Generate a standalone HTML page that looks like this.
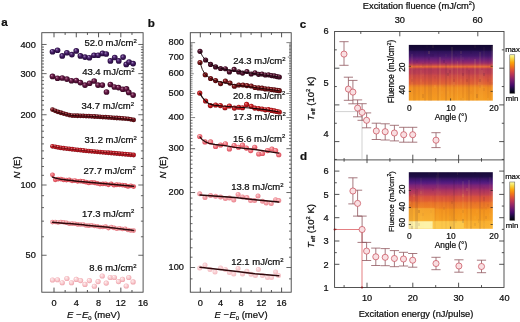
<!DOCTYPE html>
<html lang="en">
<head>
<meta charset="utf-8">
<title>Figure</title>
<style>
html,body{margin:0;padding:0;background:#fff;}
body{width:520px;height:322px;overflow:hidden;}
svg{display:block;font-family:"Liberation Sans",Arial,sans-serif;}
text{stroke:#0c0c0c;stroke-width:0.22px;}
</style>
</head>
<body>
<svg width="520" height="322" viewBox="0 0 520 322">
<rect width="520" height="322" fill="#fff"/>
<defs>
<radialGradient id="a1" cx="0.5" cy="0.5" fx="0.34" fy="0.3" r="0.56"><stop offset="0" stop-color="#b8a0d4"/><stop offset="0.2" stop-color="#715090"/><stop offset="0.48" stop-color="#421a62"/><stop offset="1" stop-color="#1c0630"/></radialGradient>
<radialGradient id="a2" cx="0.5" cy="0.5" fx="0.34" fy="0.3" r="0.56"><stop offset="0" stop-color="#cc98b4"/><stop offset="0.2" stop-color="#8b496e"/><stop offset="0.48" stop-color="#601440"/><stop offset="1" stop-color="#2c051c"/></radialGradient>
<radialGradient id="a3" cx="0.5" cy="0.5" fx="0.34" fy="0.3" r="0.56"><stop offset="0" stop-color="#e0a0a4"/><stop offset="0.2" stop-color="#a04a51"/><stop offset="0.48" stop-color="#76101a"/><stop offset="1" stop-color="#380408"/></radialGradient>
<radialGradient id="a4" cx="0.5" cy="0.5" fx="0.34" fy="0.3" r="0.56"><stop offset="0" stop-color="#f8b8b8"/><stop offset="0.2" stop-color="#d9595f"/><stop offset="0.48" stop-color="#c41a24"/><stop offset="1" stop-color="#780a12"/></radialGradient>
<radialGradient id="a5" cx="0.5" cy="0.5" fx="0.34" fy="0.3" r="0.56"><stop offset="0" stop-color="#ffdcdc"/><stop offset="0.2" stop-color="#f5989e"/><stop offset="0.48" stop-color="#ee6a74"/><stop offset="1" stop-color="#cc3e4a"/></radialGradient>
<radialGradient id="a6" cx="0.5" cy="0.5" fx="0.34" fy="0.3" r="0.56"><stop offset="0" stop-color="#ffe4e4"/><stop offset="0.2" stop-color="#f7b8bb"/><stop offset="0.48" stop-color="#f29aa0"/><stop offset="1" stop-color="#dc6872"/></radialGradient>
<radialGradient id="a7" cx="0.5" cy="0.5" fx="0.34" fy="0.3" r="0.56"><stop offset="0" stop-color="#fff8f8"/><stop offset="0.2" stop-color="#fbe0e2"/><stop offset="0.48" stop-color="#f9d0d3"/><stop offset="1" stop-color="#ec98a2"/></radialGradient>
<radialGradient id="b1" cx="0.5" cy="0.5" fx="0.34" fy="0.3" r="0.56"><stop offset="0" stop-color="#c494ac"/><stop offset="0.2" stop-color="#7e455f"/><stop offset="0.48" stop-color="#50102c"/><stop offset="1" stop-color="#240412"/></radialGradient>
<radialGradient id="b2" cx="0.5" cy="0.5" fx="0.34" fy="0.3" r="0.56"><stop offset="0" stop-color="#dc9c9c"/><stop offset="0.2" stop-color="#a2494c"/><stop offset="0.48" stop-color="#7c1216"/><stop offset="1" stop-color="#3a0508"/></radialGradient>
<radialGradient id="b3" cx="0.5" cy="0.5" fx="0.34" fy="0.3" r="0.56"><stop offset="0" stop-color="#f8b4b4"/><stop offset="0.2" stop-color="#db595b"/><stop offset="0.48" stop-color="#c81c20"/><stop offset="1" stop-color="#7c0a0e"/></radialGradient>
<radialGradient id="b4" cx="0.5" cy="0.5" fx="0.34" fy="0.3" r="0.56"><stop offset="0" stop-color="#ffe0e0"/><stop offset="0.2" stop-color="#f6a3a9"/><stop offset="0.48" stop-color="#f07a84"/><stop offset="1" stop-color="#d84452"/></radialGradient>
<radialGradient id="b5" cx="0.5" cy="0.5" fx="0.34" fy="0.3" r="0.56"><stop offset="0" stop-color="#ffe0e0"/><stop offset="0.2" stop-color="#f8babe"/><stop offset="0.48" stop-color="#f4a0a8"/><stop offset="1" stop-color="#e6808a"/></radialGradient>
<radialGradient id="b6" cx="0.5" cy="0.5" fx="0.34" fy="0.3" r="0.56"><stop offset="0" stop-color="#fff4f4"/><stop offset="0.2" stop-color="#fbdee1"/><stop offset="0.48" stop-color="#f9d0d4"/><stop offset="1" stop-color="#f2b8be"/></radialGradient>
<linearGradient id="cb" x1="0" y1="0" x2="0" y2="1"><stop offset="0" stop-color="#fcffa4"/><stop offset="0.1" stop-color="#f6d746"/><stop offset="0.2" stop-color="#fca50a"/><stop offset="0.3" stop-color="#f37819"/><stop offset="0.4" stop-color="#dd513a"/><stop offset="0.5" stop-color="#bc3754"/><stop offset="0.6" stop-color="#932667"/><stop offset="0.7" stop-color="#6a176e"/><stop offset="0.8" stop-color="#420a68"/><stop offset="0.9" stop-color="#160b39"/><stop offset="1" stop-color="#000004"/></linearGradient>
</defs>
<rect x="41.8" y="32.7" width="101.3" height="259.5" fill="#fff" stroke="#404040" stroke-width="0.9"/>
<line x1="54" y1="292.2" x2="54" y2="287.6" stroke="#404040" stroke-width="0.9"/>
<line x1="54" y1="32.7" x2="54" y2="37.3" stroke="#404040" stroke-width="0.9"/>
<line x1="65.14" y1="292.2" x2="65.14" y2="290" stroke="#404040" stroke-width="0.9"/>
<line x1="65.14" y1="32.7" x2="65.14" y2="34.9" stroke="#404040" stroke-width="0.9"/>
<line x1="76.28" y1="292.2" x2="76.28" y2="287.6" stroke="#404040" stroke-width="0.9"/>
<line x1="76.28" y1="32.7" x2="76.28" y2="37.3" stroke="#404040" stroke-width="0.9"/>
<line x1="87.42" y1="292.2" x2="87.42" y2="290" stroke="#404040" stroke-width="0.9"/>
<line x1="87.42" y1="32.7" x2="87.42" y2="34.9" stroke="#404040" stroke-width="0.9"/>
<line x1="98.56" y1="292.2" x2="98.56" y2="287.6" stroke="#404040" stroke-width="0.9"/>
<line x1="98.56" y1="32.7" x2="98.56" y2="37.3" stroke="#404040" stroke-width="0.9"/>
<line x1="109.7" y1="292.2" x2="109.7" y2="290" stroke="#404040" stroke-width="0.9"/>
<line x1="109.7" y1="32.7" x2="109.7" y2="34.9" stroke="#404040" stroke-width="0.9"/>
<line x1="120.84" y1="292.2" x2="120.84" y2="287.6" stroke="#404040" stroke-width="0.9"/>
<line x1="120.84" y1="32.7" x2="120.84" y2="37.3" stroke="#404040" stroke-width="0.9"/>
<line x1="131.98" y1="292.2" x2="131.98" y2="290" stroke="#404040" stroke-width="0.9"/>
<line x1="131.98" y1="32.7" x2="131.98" y2="34.9" stroke="#404040" stroke-width="0.9"/>
<line x1="41.8" y1="255.26" x2="46.6" y2="255.26" stroke="#404040" stroke-width="0.8"/>
<line x1="143.1" y1="255.26" x2="138.3" y2="255.26" stroke="#404040" stroke-width="0.8"/>
<line x1="41.8" y1="236.78" x2="44" y2="236.78" stroke="#404040" stroke-width="0.8"/>
<line x1="143.1" y1="236.78" x2="140.9" y2="236.78" stroke="#404040" stroke-width="0.8"/>
<line x1="41.8" y1="221.15" x2="44" y2="221.15" stroke="#404040" stroke-width="0.8"/>
<line x1="143.1" y1="221.15" x2="140.9" y2="221.15" stroke="#404040" stroke-width="0.8"/>
<line x1="41.8" y1="207.62" x2="44" y2="207.62" stroke="#404040" stroke-width="0.8"/>
<line x1="143.1" y1="207.62" x2="140.9" y2="207.62" stroke="#404040" stroke-width="0.8"/>
<line x1="41.8" y1="195.68" x2="44" y2="195.68" stroke="#404040" stroke-width="0.8"/>
<line x1="143.1" y1="195.68" x2="140.9" y2="195.68" stroke="#404040" stroke-width="0.8"/>
<line x1="41.8" y1="185" x2="46.6" y2="185" stroke="#404040" stroke-width="0.8"/>
<line x1="143.1" y1="185" x2="138.3" y2="185" stroke="#404040" stroke-width="0.8"/>
<line x1="41.8" y1="175.34" x2="44" y2="175.34" stroke="#404040" stroke-width="0.8"/>
<line x1="143.1" y1="175.34" x2="140.9" y2="175.34" stroke="#404040" stroke-width="0.8"/>
<line x1="41.8" y1="166.52" x2="44" y2="166.52" stroke="#404040" stroke-width="0.8"/>
<line x1="143.1" y1="166.52" x2="140.9" y2="166.52" stroke="#404040" stroke-width="0.8"/>
<line x1="41.8" y1="158.41" x2="44" y2="158.41" stroke="#404040" stroke-width="0.8"/>
<line x1="143.1" y1="158.41" x2="140.9" y2="158.41" stroke="#404040" stroke-width="0.8"/>
<line x1="41.8" y1="150.89" x2="44" y2="150.89" stroke="#404040" stroke-width="0.8"/>
<line x1="143.1" y1="150.89" x2="140.9" y2="150.89" stroke="#404040" stroke-width="0.8"/>
<line x1="41.8" y1="143.9" x2="44" y2="143.9" stroke="#404040" stroke-width="0.8"/>
<line x1="143.1" y1="143.9" x2="140.9" y2="143.9" stroke="#404040" stroke-width="0.8"/>
<line x1="41.8" y1="137.36" x2="44" y2="137.36" stroke="#404040" stroke-width="0.8"/>
<line x1="143.1" y1="137.36" x2="140.9" y2="137.36" stroke="#404040" stroke-width="0.8"/>
<line x1="41.8" y1="131.21" x2="44" y2="131.21" stroke="#404040" stroke-width="0.8"/>
<line x1="143.1" y1="131.21" x2="140.9" y2="131.21" stroke="#404040" stroke-width="0.8"/>
<line x1="41.8" y1="125.42" x2="44" y2="125.42" stroke="#404040" stroke-width="0.8"/>
<line x1="143.1" y1="125.42" x2="140.9" y2="125.42" stroke="#404040" stroke-width="0.8"/>
<line x1="41.8" y1="119.94" x2="44" y2="119.94" stroke="#404040" stroke-width="0.8"/>
<line x1="143.1" y1="119.94" x2="140.9" y2="119.94" stroke="#404040" stroke-width="0.8"/>
<line x1="41.8" y1="114.74" x2="46.6" y2="114.74" stroke="#404040" stroke-width="0.8"/>
<line x1="143.1" y1="114.74" x2="138.3" y2="114.74" stroke="#404040" stroke-width="0.8"/>
<line x1="41.8" y1="109.79" x2="44" y2="109.79" stroke="#404040" stroke-width="0.8"/>
<line x1="143.1" y1="109.79" x2="140.9" y2="109.79" stroke="#404040" stroke-width="0.8"/>
<line x1="41.8" y1="105.08" x2="44" y2="105.08" stroke="#404040" stroke-width="0.8"/>
<line x1="143.1" y1="105.08" x2="140.9" y2="105.08" stroke="#404040" stroke-width="0.8"/>
<line x1="41.8" y1="100.57" x2="44" y2="100.57" stroke="#404040" stroke-width="0.8"/>
<line x1="143.1" y1="100.57" x2="140.9" y2="100.57" stroke="#404040" stroke-width="0.8"/>
<line x1="41.8" y1="96.26" x2="44" y2="96.26" stroke="#404040" stroke-width="0.8"/>
<line x1="143.1" y1="96.26" x2="140.9" y2="96.26" stroke="#404040" stroke-width="0.8"/>
<line x1="41.8" y1="92.12" x2="44" y2="92.12" stroke="#404040" stroke-width="0.8"/>
<line x1="143.1" y1="92.12" x2="140.9" y2="92.12" stroke="#404040" stroke-width="0.8"/>
<line x1="41.8" y1="88.15" x2="44" y2="88.15" stroke="#404040" stroke-width="0.8"/>
<line x1="143.1" y1="88.15" x2="140.9" y2="88.15" stroke="#404040" stroke-width="0.8"/>
<line x1="41.8" y1="84.32" x2="44" y2="84.32" stroke="#404040" stroke-width="0.8"/>
<line x1="143.1" y1="84.32" x2="140.9" y2="84.32" stroke="#404040" stroke-width="0.8"/>
<line x1="41.8" y1="80.63" x2="44" y2="80.63" stroke="#404040" stroke-width="0.8"/>
<line x1="143.1" y1="80.63" x2="140.9" y2="80.63" stroke="#404040" stroke-width="0.8"/>
<line x1="41.8" y1="77.08" x2="44" y2="77.08" stroke="#404040" stroke-width="0.8"/>
<line x1="143.1" y1="77.08" x2="140.9" y2="77.08" stroke="#404040" stroke-width="0.8"/>
<line x1="41.8" y1="73.64" x2="46.6" y2="73.64" stroke="#404040" stroke-width="0.8"/>
<line x1="143.1" y1="73.64" x2="138.3" y2="73.64" stroke="#404040" stroke-width="0.8"/>
<line x1="41.8" y1="70.32" x2="44" y2="70.32" stroke="#404040" stroke-width="0.8"/>
<line x1="143.1" y1="70.32" x2="140.9" y2="70.32" stroke="#404040" stroke-width="0.8"/>
<line x1="41.8" y1="67.1" x2="44" y2="67.1" stroke="#404040" stroke-width="0.8"/>
<line x1="143.1" y1="67.1" x2="140.9" y2="67.1" stroke="#404040" stroke-width="0.8"/>
<line x1="41.8" y1="63.98" x2="44" y2="63.98" stroke="#404040" stroke-width="0.8"/>
<line x1="143.1" y1="63.98" x2="140.9" y2="63.98" stroke="#404040" stroke-width="0.8"/>
<line x1="41.8" y1="60.95" x2="44" y2="60.95" stroke="#404040" stroke-width="0.8"/>
<line x1="143.1" y1="60.95" x2="140.9" y2="60.95" stroke="#404040" stroke-width="0.8"/>
<line x1="41.8" y1="58.01" x2="44" y2="58.01" stroke="#404040" stroke-width="0.8"/>
<line x1="143.1" y1="58.01" x2="140.9" y2="58.01" stroke="#404040" stroke-width="0.8"/>
<line x1="41.8" y1="55.16" x2="44" y2="55.16" stroke="#404040" stroke-width="0.8"/>
<line x1="143.1" y1="55.16" x2="140.9" y2="55.16" stroke="#404040" stroke-width="0.8"/>
<line x1="41.8" y1="52.38" x2="44" y2="52.38" stroke="#404040" stroke-width="0.8"/>
<line x1="143.1" y1="52.38" x2="140.9" y2="52.38" stroke="#404040" stroke-width="0.8"/>
<line x1="41.8" y1="49.68" x2="44" y2="49.68" stroke="#404040" stroke-width="0.8"/>
<line x1="143.1" y1="49.68" x2="140.9" y2="49.68" stroke="#404040" stroke-width="0.8"/>
<line x1="41.8" y1="47.05" x2="44" y2="47.05" stroke="#404040" stroke-width="0.8"/>
<line x1="143.1" y1="47.05" x2="140.9" y2="47.05" stroke="#404040" stroke-width="0.8"/>
<line x1="41.8" y1="44.48" x2="46.6" y2="44.48" stroke="#404040" stroke-width="0.8"/>
<line x1="143.1" y1="44.48" x2="138.3" y2="44.48" stroke="#404040" stroke-width="0.8"/>
<g fill="url(#a1)">
<circle cx="52.5" cy="51.75" r="2.85"/>
<circle cx="57.5" cy="50.25" r="2.85"/>
<circle cx="62.25" cy="55.9" r="2.85"/>
<circle cx="66.9" cy="52.75" r="2.85"/>
<circle cx="71.9" cy="54.6" r="2.85"/>
<circle cx="76.25" cy="50.9" r="2.85"/>
<circle cx="80.4" cy="55.9" r="2.85"/>
<circle cx="85" cy="57.1" r="2.85"/>
<circle cx="89.4" cy="57.75" r="2.85"/>
<circle cx="94" cy="55.25" r="2.85"/>
<circle cx="98.1" cy="55.25" r="2.85"/>
<circle cx="102.5" cy="53.4" r="2.85"/>
<circle cx="106.25" cy="54" r="2.85"/>
<circle cx="110.4" cy="60.9" r="2.85"/>
<circle cx="114.75" cy="57.5" r="2.85"/>
<circle cx="118.75" cy="60.9" r="2.85"/>
<circle cx="123.1" cy="57.1" r="2.85"/>
<circle cx="126.25" cy="64.4" r="2.85"/>
<circle cx="129.1" cy="62.1" r="2.85"/>
<circle cx="133.1" cy="63.6" r="2.85"/>
</g>
<g fill="url(#a2)">
<circle cx="52.5" cy="76.4" r="2.85"/>
<circle cx="57.5" cy="78.25" r="2.85"/>
<circle cx="62.25" cy="78" r="2.85"/>
<circle cx="66.9" cy="79.1" r="2.85"/>
<circle cx="71.5" cy="80.75" r="2.85"/>
<circle cx="76.25" cy="80.5" r="2.85"/>
<circle cx="80.4" cy="82.6" r="2.85"/>
<circle cx="85" cy="85.1" r="2.85"/>
<circle cx="89.6" cy="83.25" r="2.85"/>
<circle cx="94.2" cy="81" r="2.85"/>
<circle cx="98" cy="85.1" r="2.85"/>
<circle cx="102.3" cy="85.1" r="2.85"/>
<circle cx="106.5" cy="92" r="2.85"/>
<circle cx="110.4" cy="84.5" r="2.85"/>
<circle cx="114.4" cy="87" r="2.85"/>
<circle cx="118.5" cy="87.6" r="2.85"/>
<circle cx="122.75" cy="89.25" r="2.85"/>
<circle cx="126.5" cy="88.9" r="2.85"/>
<circle cx="128.75" cy="92.4" r="2.85"/>
<circle cx="133.1" cy="95.1" r="2.85"/>
</g>
<g fill="url(#a3)">
<circle cx="52.5" cy="109.6" r="2.4"/>
<circle cx="55.3" cy="110.84" r="2.4"/>
<circle cx="58.09" cy="111.93" r="2.4"/>
<circle cx="60.89" cy="112.77" r="2.4"/>
<circle cx="63.69" cy="113.58" r="2.4"/>
<circle cx="66.48" cy="114.31" r="2.4"/>
<circle cx="69.28" cy="115.05" r="2.4"/>
<circle cx="72.08" cy="115.54" r="2.4"/>
<circle cx="74.87" cy="115.64" r="2.4"/>
<circle cx="77.67" cy="115.75" r="2.4"/>
<circle cx="80.47" cy="115.85" r="2.4"/>
<circle cx="83.26" cy="115.95" r="2.4"/>
<circle cx="86.06" cy="116.05" r="2.4"/>
<circle cx="88.86" cy="116.16" r="2.4"/>
<circle cx="91.65" cy="116.31" r="2.4"/>
<circle cx="94.45" cy="116.49" r="2.4"/>
<circle cx="97.24" cy="116.67" r="2.4"/>
<circle cx="100.04" cy="116.85" r="2.4"/>
<circle cx="102.84" cy="117.03" r="2.4"/>
<circle cx="105.63" cy="117.22" r="2.4"/>
<circle cx="108.43" cy="117.4" r="2.4"/>
<circle cx="111.23" cy="117.59" r="2.4"/>
<circle cx="114.02" cy="117.79" r="2.4"/>
<circle cx="116.82" cy="117.99" r="2.4"/>
<circle cx="119.62" cy="118.19" r="2.4"/>
<circle cx="122.41" cy="118.4" r="2.4"/>
<circle cx="125.21" cy="118.6" r="2.4"/>
<circle cx="128.01" cy="118.8" r="2.4"/>
<circle cx="130.8" cy="119.35" r="2.4"/>
<circle cx="133.6" cy="119.9" r="2.4"/>
</g>
<polyline fill="none" stroke="#2a0508" stroke-width="1" stroke-linejoin="round" stroke-linecap="round" points="52.5,110.2 55.3,111.32 58.09,112.29 60.89,113.04 63.69,113.75 66.48,114.38 69.28,115.01 72.08,115.45 74.87,115.58 77.67,115.72 80.47,115.85 83.26,115.98 86.06,116.11 88.86,116.25 91.65,116.4 94.45,116.57 97.24,116.73 100.04,116.9 102.84,117.07 105.63,117.24 108.43,117.41 111.23,117.62 114.02,117.91 116.82,118.19 119.62,118.48 122.41,118.76 125.21,119.05 128.01,119.33 130.8,119.62 133.6,119.9"/>
<g fill="url(#a4)">
<circle cx="52.5" cy="146.3" r="2.4"/>
<circle cx="55.3" cy="146.86" r="2.4"/>
<circle cx="58.09" cy="147.42" r="2.4"/>
<circle cx="60.89" cy="147.91" r="2.4"/>
<circle cx="63.69" cy="148.24" r="2.4"/>
<circle cx="66.48" cy="148.58" r="2.4"/>
<circle cx="69.28" cy="148.91" r="2.4"/>
<circle cx="72.08" cy="149.25" r="2.4"/>
<circle cx="74.87" cy="149.58" r="2.4"/>
<circle cx="77.67" cy="149.88" r="2.4"/>
<circle cx="80.47" cy="150.18" r="2.4"/>
<circle cx="83.26" cy="150.48" r="2.4"/>
<circle cx="86.06" cy="150.78" r="2.4"/>
<circle cx="88.86" cy="151.08" r="2.4"/>
<circle cx="91.65" cy="151.34" r="2.4"/>
<circle cx="94.45" cy="151.58" r="2.4"/>
<circle cx="97.24" cy="151.82" r="2.4"/>
<circle cx="100.04" cy="152.05" r="2.4"/>
<circle cx="102.84" cy="152.29" r="2.4"/>
<circle cx="105.63" cy="152.53" r="2.4"/>
<circle cx="108.43" cy="152.77" r="2.4"/>
<circle cx="111.23" cy="153.01" r="2.4"/>
<circle cx="114.02" cy="153.26" r="2.4"/>
<circle cx="116.82" cy="153.51" r="2.4"/>
<circle cx="119.62" cy="153.76" r="2.4"/>
<circle cx="122.41" cy="154" r="2.4"/>
<circle cx="125.21" cy="154.25" r="2.4"/>
<circle cx="128.01" cy="154.5" r="2.4"/>
<circle cx="130.8" cy="154.75" r="2.4"/>
<circle cx="133.6" cy="155" r="2.4"/>
</g>
<polyline fill="none" stroke="#6a0a0e" stroke-width="0.9" stroke-linejoin="round" stroke-linecap="round" points="52.5,146.3 55.3,146.86 58.09,147.42 60.89,147.91 63.69,148.24 66.48,148.58 69.28,148.91 72.08,149.25 74.87,149.58 77.67,149.88 80.47,150.18 83.26,150.48 86.06,150.78 88.86,151.08 91.65,151.34 94.45,151.58 97.24,151.82 100.04,152.05 102.84,152.29 105.63,152.53 108.43,152.77 111.23,153.01 114.02,153.26 116.82,153.51 119.62,153.76 122.41,154 125.21,154.25 128.01,154.5 130.8,154.75 133.6,155"/>
<g fill="url(#a5)">
<circle cx="52.5" cy="174.8" r="2.4"/>
<circle cx="55.3" cy="179.8" r="2.4"/>
<circle cx="58.09" cy="179.17" r="2.4"/>
<circle cx="60.89" cy="179.08" r="2.4"/>
<circle cx="63.69" cy="179.94" r="2.4"/>
<circle cx="66.48" cy="180.03" r="2.4"/>
<circle cx="69.28" cy="179.96" r="2.4"/>
<circle cx="72.08" cy="180.8" r="2.4"/>
<circle cx="74.87" cy="180.53" r="2.4"/>
<circle cx="77.67" cy="181.31" r="2.4"/>
<circle cx="80.47" cy="181.17" r="2.4"/>
<circle cx="83.26" cy="181.49" r="2.4"/>
<circle cx="86.06" cy="182.19" r="2.4"/>
<circle cx="88.86" cy="182.97" r="2.4"/>
<circle cx="91.65" cy="182.39" r="2.4"/>
<circle cx="94.45" cy="182.75" r="2.4"/>
<circle cx="97.24" cy="183.47" r="2.4"/>
<circle cx="100.04" cy="184.09" r="2.4"/>
<circle cx="102.84" cy="183.88" r="2.4"/>
<circle cx="105.63" cy="183.9" r="2.4"/>
<circle cx="108.43" cy="184.84" r="2.4"/>
<circle cx="111.23" cy="183.97" r="2.4"/>
<circle cx="114.02" cy="185.19" r="2.4"/>
<circle cx="116.82" cy="184.75" r="2.4"/>
<circle cx="119.62" cy="184.83" r="2.4"/>
<circle cx="122.41" cy="185.05" r="2.4"/>
<circle cx="125.21" cy="185.52" r="2.4"/>
<circle cx="128.01" cy="186.38" r="2.4"/>
<circle cx="130.8" cy="185.87" r="2.4"/>
<circle cx="133.6" cy="186.6" r="2.4"/>
</g>
<polyline fill="none" stroke="#2a080a" stroke-width="1.5" stroke-linejoin="round" stroke-linecap="round" points="52.5,177.15 55.3,177.99 58.09,178.62 60.89,179.18 63.69,179.59 66.48,179.92 69.28,180.24 72.08,180.56 74.87,180.89 77.67,181.17 80.47,181.45 83.26,181.73 86.06,182.01 88.86,182.29 91.65,182.55 94.45,182.8 97.24,183.05 100.04,183.3 102.84,183.56 105.63,183.81 108.43,184.06 111.23,184.31 114.02,184.55 116.82,184.8 119.62,185.04 122.41,185.29 125.21,185.53 128.01,185.78 130.8,186.02 133.6,186.27"/>
<g fill="url(#a6)">
<circle cx="52.5" cy="222.12" r="2.3"/>
<circle cx="55.3" cy="221.96" r="2.3"/>
<circle cx="58.09" cy="222.5" r="2.3"/>
<circle cx="60.89" cy="221.98" r="2.3"/>
<circle cx="63.69" cy="222.24" r="2.3"/>
<circle cx="66.48" cy="222.73" r="2.3"/>
<circle cx="69.28" cy="223.75" r="2.3"/>
<circle cx="72.08" cy="223.61" r="2.3"/>
<circle cx="74.87" cy="223.69" r="2.3"/>
<circle cx="77.67" cy="224.39" r="2.3"/>
<circle cx="80.47" cy="224.45" r="2.3"/>
<circle cx="83.26" cy="224.48" r="2.3"/>
<circle cx="86.06" cy="225.54" r="2.3"/>
<circle cx="88.86" cy="225.66" r="2.3"/>
<circle cx="91.65" cy="225.2" r="2.3"/>
<circle cx="94.45" cy="226" r="2.3"/>
<circle cx="97.24" cy="226.19" r="2.3"/>
<circle cx="100.04" cy="227.02" r="2.3"/>
<circle cx="102.84" cy="227.06" r="2.3"/>
<circle cx="105.63" cy="226.64" r="2.3"/>
<circle cx="108.43" cy="228.1" r="2.3"/>
<circle cx="111.23" cy="227.07" r="2.3"/>
<circle cx="114.02" cy="227.9" r="2.3"/>
<circle cx="116.82" cy="228.8" r="2.3"/>
<circle cx="119.62" cy="228.18" r="2.3"/>
<circle cx="122.41" cy="229.07" r="2.3"/>
<circle cx="125.21" cy="228.71" r="2.3"/>
<circle cx="128.01" cy="230.07" r="2.3"/>
<circle cx="130.8" cy="230.57" r="2.3"/>
<circle cx="133.6" cy="230.62" r="2.3"/>
</g>
<polyline fill="none" stroke="#30090c" stroke-width="1.5" stroke-linejoin="round" stroke-linecap="round" points="52.5,222.2 55.3,222.44 58.09,222.67 60.89,222.91 63.69,223.14 66.48,223.38 69.28,223.62 72.08,223.85 74.87,224.09 77.67,224.35 80.47,224.61 83.26,224.87 86.06,225.13 88.86,225.39 91.65,225.65 94.45,225.92 97.24,226.18 100.04,226.44 102.84,226.7 105.63,226.98 108.43,227.33 111.23,227.67 114.02,228.02 116.82,228.37 119.62,228.71 122.41,229.06 125.21,229.41 128.01,229.76 130.8,230.1 133.6,230.45"/>
<g fill="url(#a7)">
<circle cx="52.5" cy="280" r="2.6"/>
<circle cx="57.5" cy="279.75" r="2.6"/>
<circle cx="62.25" cy="282.75" r="2.6"/>
<circle cx="66.9" cy="278.5" r="2.6"/>
<circle cx="71.5" cy="282.75" r="2.6"/>
<circle cx="76.25" cy="279.4" r="2.6"/>
<circle cx="80.6" cy="280.6" r="2.6"/>
<circle cx="85" cy="284.4" r="2.6"/>
<circle cx="89.4" cy="280.6" r="2.6"/>
<circle cx="94.4" cy="286.25" r="2.6"/>
<circle cx="98.1" cy="281.6" r="2.6"/>
<circle cx="102.25" cy="276" r="2.6"/>
<circle cx="106.25" cy="283.1" r="2.6"/>
<circle cx="110.25" cy="277.5" r="2.6"/>
<circle cx="114.4" cy="277.5" r="2.6"/>
<circle cx="118.5" cy="281.6" r="2.6"/>
<circle cx="122.5" cy="279.4" r="2.6"/>
<circle cx="126.25" cy="286" r="2.6"/>
<circle cx="128.75" cy="277.5" r="2.6"/>
<circle cx="133.1" cy="281.9" r="2.6"/>
</g>
<text x="136.9" y="46.2" font-size="9.5" text-anchor="end" fill="#0c0c0c">52.0 mJ/cm<tspan font-size="6" dy="-3.5">2</tspan></text>
<text x="134.6" y="75.2" font-size="9.5" text-anchor="end" fill="#0c0c0c">43.4 mJ/cm<tspan font-size="6" dy="-3.5">2</tspan></text>
<text x="134" y="109.4" font-size="9.5" text-anchor="end" fill="#0c0c0c">34.7 mJ/cm<tspan font-size="6" dy="-3.5">2</tspan></text>
<text x="136.9" y="143.1" font-size="9.5" text-anchor="end" fill="#0c0c0c">31.2 mJ/cm<tspan font-size="6" dy="-3.5">2</tspan></text>
<text x="135.9" y="173.6" font-size="9.5" text-anchor="end" fill="#0c0c0c">27.7 mJ/cm<tspan font-size="6" dy="-3.5">2</tspan></text>
<text x="134.4" y="216.9" font-size="9.5" text-anchor="end" fill="#0c0c0c">17.3 mJ/cm<tspan font-size="6" dy="-3.5">2</tspan></text>
<text x="136.5" y="271.2" font-size="9.5" text-anchor="end" fill="#0c0c0c">8.6 mJ/cm<tspan font-size="6" dy="-3.5">2</tspan></text>
<text x="35.8" y="258.36" font-size="9.2" text-anchor="end" fill="#0c0c0c">50</text>
<text x="35.8" y="188.1" font-size="9.2" text-anchor="end" fill="#0c0c0c">100</text>
<text x="35.8" y="117.84" font-size="9.2" text-anchor="end" fill="#0c0c0c">200</text>
<text x="35.8" y="76.74" font-size="9.2" text-anchor="end" fill="#0c0c0c">300</text>
<text x="35.8" y="47.58" font-size="9.2" text-anchor="end" fill="#0c0c0c">400</text>
<text x="54" y="305.6" font-size="9.2" text-anchor="middle" fill="#0c0c0c">0</text>
<text x="76.28" y="305.6" font-size="9.2" text-anchor="middle" fill="#0c0c0c">4</text>
<text x="98.56" y="305.6" font-size="9.2" text-anchor="middle" fill="#0c0c0c">8</text>
<text x="120.84" y="305.6" font-size="9.2" text-anchor="middle" fill="#0c0c0c">12</text>
<text x="143.12" y="305.6" font-size="9.2" text-anchor="middle" fill="#0c0c0c">16</text>
<text x="93.5" y="318.2" font-size="9.5" text-anchor="middle" fill="#0c0c0c"><tspan font-style="italic">E</tspan> −<tspan font-style="italic" dx="0.5">E</tspan><tspan font-size="5.8" dy="1.8">0</tspan><tspan dy="-1.8"> (meV)</tspan></text>
<text transform="translate(20.4 167.5) rotate(-90)" font-size="9.5" text-anchor="middle" fill="#0c0c0c"><tspan font-style="italic">N</tspan> (E)</text>
<text x="1.2" y="26.4" font-size="11.6" font-weight="bold" fill="#111">a</text>
<text x="147.8" y="26.9" font-size="11.6" font-weight="bold" fill="#111">b</text>
<text x="299.7" y="27.6" font-size="11.6" font-weight="bold" fill="#111">c</text>
<text x="299.9" y="160.4" font-size="11.6" font-weight="bold" fill="#111">d</text>
<rect x="190.3" y="32.7" width="100.9" height="259.5" fill="#fff" stroke="#404040" stroke-width="0.9"/>
<line x1="200.3" y1="292.2" x2="200.3" y2="287.6" stroke="#404040" stroke-width="0.9"/>
<line x1="200.3" y1="32.7" x2="200.3" y2="37.3" stroke="#404040" stroke-width="0.9"/>
<line x1="210.46" y1="292.2" x2="210.46" y2="290" stroke="#404040" stroke-width="0.9"/>
<line x1="210.46" y1="32.7" x2="210.46" y2="34.9" stroke="#404040" stroke-width="0.9"/>
<line x1="220.62" y1="292.2" x2="220.62" y2="287.6" stroke="#404040" stroke-width="0.9"/>
<line x1="220.62" y1="32.7" x2="220.62" y2="37.3" stroke="#404040" stroke-width="0.9"/>
<line x1="230.78" y1="292.2" x2="230.78" y2="290" stroke="#404040" stroke-width="0.9"/>
<line x1="230.78" y1="32.7" x2="230.78" y2="34.9" stroke="#404040" stroke-width="0.9"/>
<line x1="240.94" y1="292.2" x2="240.94" y2="287.6" stroke="#404040" stroke-width="0.9"/>
<line x1="240.94" y1="32.7" x2="240.94" y2="37.3" stroke="#404040" stroke-width="0.9"/>
<line x1="251.1" y1="292.2" x2="251.1" y2="290" stroke="#404040" stroke-width="0.9"/>
<line x1="251.1" y1="32.7" x2="251.1" y2="34.9" stroke="#404040" stroke-width="0.9"/>
<line x1="261.26" y1="292.2" x2="261.26" y2="287.6" stroke="#404040" stroke-width="0.9"/>
<line x1="261.26" y1="32.7" x2="261.26" y2="37.3" stroke="#404040" stroke-width="0.9"/>
<line x1="271.42" y1="292.2" x2="271.42" y2="290" stroke="#404040" stroke-width="0.9"/>
<line x1="271.42" y1="32.7" x2="271.42" y2="34.9" stroke="#404040" stroke-width="0.9"/>
<line x1="281.58" y1="292.2" x2="281.58" y2="287.6" stroke="#404040" stroke-width="0.9"/>
<line x1="281.58" y1="32.7" x2="281.58" y2="37.3" stroke="#404040" stroke-width="0.9"/>
<line x1="190.3" y1="278.89" x2="192.5" y2="278.89" stroke="#404040" stroke-width="0.8"/>
<line x1="291.2" y1="278.89" x2="289" y2="278.89" stroke="#404040" stroke-width="0.8"/>
<line x1="190.3" y1="267.5" x2="195.1" y2="267.5" stroke="#404040" stroke-width="0.8"/>
<line x1="291.2" y1="267.5" x2="286.4" y2="267.5" stroke="#404040" stroke-width="0.8"/>
<line x1="190.3" y1="257.19" x2="192.5" y2="257.19" stroke="#404040" stroke-width="0.8"/>
<line x1="291.2" y1="257.19" x2="289" y2="257.19" stroke="#404040" stroke-width="0.8"/>
<line x1="190.3" y1="247.78" x2="192.5" y2="247.78" stroke="#404040" stroke-width="0.8"/>
<line x1="291.2" y1="247.78" x2="289" y2="247.78" stroke="#404040" stroke-width="0.8"/>
<line x1="190.3" y1="239.13" x2="192.5" y2="239.13" stroke="#404040" stroke-width="0.8"/>
<line x1="291.2" y1="239.13" x2="289" y2="239.13" stroke="#404040" stroke-width="0.8"/>
<line x1="190.3" y1="231.11" x2="192.5" y2="231.11" stroke="#404040" stroke-width="0.8"/>
<line x1="291.2" y1="231.11" x2="289" y2="231.11" stroke="#404040" stroke-width="0.8"/>
<line x1="190.3" y1="223.65" x2="192.5" y2="223.65" stroke="#404040" stroke-width="0.8"/>
<line x1="291.2" y1="223.65" x2="289" y2="223.65" stroke="#404040" stroke-width="0.8"/>
<line x1="190.3" y1="216.67" x2="192.5" y2="216.67" stroke="#404040" stroke-width="0.8"/>
<line x1="291.2" y1="216.67" x2="289" y2="216.67" stroke="#404040" stroke-width="0.8"/>
<line x1="190.3" y1="210.12" x2="192.5" y2="210.12" stroke="#404040" stroke-width="0.8"/>
<line x1="291.2" y1="210.12" x2="289" y2="210.12" stroke="#404040" stroke-width="0.8"/>
<line x1="190.3" y1="203.94" x2="192.5" y2="203.94" stroke="#404040" stroke-width="0.8"/>
<line x1="291.2" y1="203.94" x2="289" y2="203.94" stroke="#404040" stroke-width="0.8"/>
<line x1="190.3" y1="198.09" x2="192.5" y2="198.09" stroke="#404040" stroke-width="0.8"/>
<line x1="291.2" y1="198.09" x2="289" y2="198.09" stroke="#404040" stroke-width="0.8"/>
<line x1="190.3" y1="192.54" x2="195.1" y2="192.54" stroke="#404040" stroke-width="0.8"/>
<line x1="291.2" y1="192.54" x2="286.4" y2="192.54" stroke="#404040" stroke-width="0.8"/>
<line x1="190.3" y1="187.27" x2="192.5" y2="187.27" stroke="#404040" stroke-width="0.8"/>
<line x1="291.2" y1="187.27" x2="289" y2="187.27" stroke="#404040" stroke-width="0.8"/>
<line x1="190.3" y1="182.24" x2="192.5" y2="182.24" stroke="#404040" stroke-width="0.8"/>
<line x1="291.2" y1="182.24" x2="289" y2="182.24" stroke="#404040" stroke-width="0.8"/>
<line x1="190.3" y1="177.43" x2="192.5" y2="177.43" stroke="#404040" stroke-width="0.8"/>
<line x1="291.2" y1="177.43" x2="289" y2="177.43" stroke="#404040" stroke-width="0.8"/>
<line x1="190.3" y1="172.83" x2="192.5" y2="172.83" stroke="#404040" stroke-width="0.8"/>
<line x1="291.2" y1="172.83" x2="289" y2="172.83" stroke="#404040" stroke-width="0.8"/>
<line x1="190.3" y1="168.41" x2="192.5" y2="168.41" stroke="#404040" stroke-width="0.8"/>
<line x1="291.2" y1="168.41" x2="289" y2="168.41" stroke="#404040" stroke-width="0.8"/>
<line x1="190.3" y1="164.17" x2="192.5" y2="164.17" stroke="#404040" stroke-width="0.8"/>
<line x1="291.2" y1="164.17" x2="289" y2="164.17" stroke="#404040" stroke-width="0.8"/>
<line x1="190.3" y1="160.09" x2="192.5" y2="160.09" stroke="#404040" stroke-width="0.8"/>
<line x1="291.2" y1="160.09" x2="289" y2="160.09" stroke="#404040" stroke-width="0.8"/>
<line x1="190.3" y1="156.16" x2="192.5" y2="156.16" stroke="#404040" stroke-width="0.8"/>
<line x1="291.2" y1="156.16" x2="289" y2="156.16" stroke="#404040" stroke-width="0.8"/>
<line x1="190.3" y1="152.36" x2="192.5" y2="152.36" stroke="#404040" stroke-width="0.8"/>
<line x1="291.2" y1="152.36" x2="289" y2="152.36" stroke="#404040" stroke-width="0.8"/>
<line x1="190.3" y1="148.7" x2="195.1" y2="148.7" stroke="#404040" stroke-width="0.8"/>
<line x1="291.2" y1="148.7" x2="286.4" y2="148.7" stroke="#404040" stroke-width="0.8"/>
<line x1="190.3" y1="145.15" x2="192.5" y2="145.15" stroke="#404040" stroke-width="0.8"/>
<line x1="291.2" y1="145.15" x2="289" y2="145.15" stroke="#404040" stroke-width="0.8"/>
<line x1="190.3" y1="141.72" x2="192.5" y2="141.72" stroke="#404040" stroke-width="0.8"/>
<line x1="291.2" y1="141.72" x2="289" y2="141.72" stroke="#404040" stroke-width="0.8"/>
<line x1="190.3" y1="138.39" x2="192.5" y2="138.39" stroke="#404040" stroke-width="0.8"/>
<line x1="291.2" y1="138.39" x2="289" y2="138.39" stroke="#404040" stroke-width="0.8"/>
<line x1="190.3" y1="135.16" x2="192.5" y2="135.16" stroke="#404040" stroke-width="0.8"/>
<line x1="291.2" y1="135.16" x2="289" y2="135.16" stroke="#404040" stroke-width="0.8"/>
<line x1="190.3" y1="132.03" x2="192.5" y2="132.03" stroke="#404040" stroke-width="0.8"/>
<line x1="291.2" y1="132.03" x2="289" y2="132.03" stroke="#404040" stroke-width="0.8"/>
<line x1="190.3" y1="128.98" x2="192.5" y2="128.98" stroke="#404040" stroke-width="0.8"/>
<line x1="291.2" y1="128.98" x2="289" y2="128.98" stroke="#404040" stroke-width="0.8"/>
<line x1="190.3" y1="126.02" x2="192.5" y2="126.02" stroke="#404040" stroke-width="0.8"/>
<line x1="291.2" y1="126.02" x2="289" y2="126.02" stroke="#404040" stroke-width="0.8"/>
<line x1="190.3" y1="123.13" x2="192.5" y2="123.13" stroke="#404040" stroke-width="0.8"/>
<line x1="291.2" y1="123.13" x2="289" y2="123.13" stroke="#404040" stroke-width="0.8"/>
<line x1="190.3" y1="120.32" x2="192.5" y2="120.32" stroke="#404040" stroke-width="0.8"/>
<line x1="291.2" y1="120.32" x2="289" y2="120.32" stroke="#404040" stroke-width="0.8"/>
<line x1="190.3" y1="117.59" x2="195.1" y2="117.59" stroke="#404040" stroke-width="0.65"/>
<line x1="291.2" y1="117.59" x2="286.4" y2="117.59" stroke="#404040" stroke-width="0.65"/>
<line x1="190.3" y1="114.92" x2="192.5" y2="114.92" stroke="#404040" stroke-width="0.65"/>
<line x1="291.2" y1="114.92" x2="289" y2="114.92" stroke="#404040" stroke-width="0.65"/>
<line x1="190.3" y1="112.31" x2="192.5" y2="112.31" stroke="#404040" stroke-width="0.65"/>
<line x1="291.2" y1="112.31" x2="289" y2="112.31" stroke="#404040" stroke-width="0.65"/>
<line x1="190.3" y1="109.77" x2="192.5" y2="109.77" stroke="#404040" stroke-width="0.65"/>
<line x1="291.2" y1="109.77" x2="289" y2="109.77" stroke="#404040" stroke-width="0.65"/>
<line x1="190.3" y1="107.28" x2="192.5" y2="107.28" stroke="#404040" stroke-width="0.65"/>
<line x1="291.2" y1="107.28" x2="289" y2="107.28" stroke="#404040" stroke-width="0.65"/>
<line x1="190.3" y1="104.85" x2="192.5" y2="104.85" stroke="#404040" stroke-width="0.65"/>
<line x1="291.2" y1="104.85" x2="289" y2="104.85" stroke="#404040" stroke-width="0.65"/>
<line x1="190.3" y1="102.47" x2="192.5" y2="102.47" stroke="#404040" stroke-width="0.65"/>
<line x1="291.2" y1="102.47" x2="289" y2="102.47" stroke="#404040" stroke-width="0.65"/>
<line x1="190.3" y1="100.15" x2="192.5" y2="100.15" stroke="#404040" stroke-width="0.65"/>
<line x1="291.2" y1="100.15" x2="289" y2="100.15" stroke="#404040" stroke-width="0.65"/>
<line x1="190.3" y1="97.87" x2="192.5" y2="97.87" stroke="#404040" stroke-width="0.65"/>
<line x1="291.2" y1="97.87" x2="289" y2="97.87" stroke="#404040" stroke-width="0.65"/>
<line x1="190.3" y1="95.64" x2="192.5" y2="95.64" stroke="#404040" stroke-width="0.65"/>
<line x1="291.2" y1="95.64" x2="289" y2="95.64" stroke="#404040" stroke-width="0.65"/>
<line x1="190.3" y1="93.46" x2="195.1" y2="93.46" stroke="#404040" stroke-width="0.65"/>
<line x1="291.2" y1="93.46" x2="286.4" y2="93.46" stroke="#404040" stroke-width="0.65"/>
<line x1="190.3" y1="91.32" x2="192.5" y2="91.32" stroke="#404040" stroke-width="0.65"/>
<line x1="291.2" y1="91.32" x2="289" y2="91.32" stroke="#404040" stroke-width="0.65"/>
<line x1="190.3" y1="89.22" x2="192.5" y2="89.22" stroke="#404040" stroke-width="0.65"/>
<line x1="291.2" y1="89.22" x2="289" y2="89.22" stroke="#404040" stroke-width="0.65"/>
<line x1="190.3" y1="87.16" x2="192.5" y2="87.16" stroke="#404040" stroke-width="0.65"/>
<line x1="291.2" y1="87.16" x2="289" y2="87.16" stroke="#404040" stroke-width="0.65"/>
<line x1="190.3" y1="85.13" x2="192.5" y2="85.13" stroke="#404040" stroke-width="0.65"/>
<line x1="291.2" y1="85.13" x2="289" y2="85.13" stroke="#404040" stroke-width="0.65"/>
<line x1="190.3" y1="83.15" x2="192.5" y2="83.15" stroke="#404040" stroke-width="0.65"/>
<line x1="291.2" y1="83.15" x2="289" y2="83.15" stroke="#404040" stroke-width="0.65"/>
<line x1="190.3" y1="81.2" x2="192.5" y2="81.2" stroke="#404040" stroke-width="0.65"/>
<line x1="291.2" y1="81.2" x2="289" y2="81.2" stroke="#404040" stroke-width="0.65"/>
<line x1="190.3" y1="79.29" x2="192.5" y2="79.29" stroke="#404040" stroke-width="0.65"/>
<line x1="291.2" y1="79.29" x2="289" y2="79.29" stroke="#404040" stroke-width="0.65"/>
<line x1="190.3" y1="77.41" x2="192.5" y2="77.41" stroke="#404040" stroke-width="0.65"/>
<line x1="291.2" y1="77.41" x2="289" y2="77.41" stroke="#404040" stroke-width="0.65"/>
<line x1="190.3" y1="75.56" x2="192.5" y2="75.56" stroke="#404040" stroke-width="0.65"/>
<line x1="291.2" y1="75.56" x2="289" y2="75.56" stroke="#404040" stroke-width="0.65"/>
<line x1="190.3" y1="73.74" x2="193.7" y2="73.74" stroke="#404040" stroke-width="0.65"/>
<line x1="291.2" y1="73.74" x2="287.8" y2="73.74" stroke="#404040" stroke-width="0.65"/>
<line x1="190.3" y1="71.95" x2="192.5" y2="71.95" stroke="#404040" stroke-width="0.65"/>
<line x1="291.2" y1="71.95" x2="289" y2="71.95" stroke="#404040" stroke-width="0.65"/>
<line x1="190.3" y1="70.19" x2="192.5" y2="70.19" stroke="#404040" stroke-width="0.65"/>
<line x1="291.2" y1="70.19" x2="289" y2="70.19" stroke="#404040" stroke-width="0.65"/>
<line x1="190.3" y1="68.46" x2="192.5" y2="68.46" stroke="#404040" stroke-width="0.65"/>
<line x1="291.2" y1="68.46" x2="289" y2="68.46" stroke="#404040" stroke-width="0.65"/>
<line x1="190.3" y1="66.76" x2="192.5" y2="66.76" stroke="#404040" stroke-width="0.65"/>
<line x1="291.2" y1="66.76" x2="289" y2="66.76" stroke="#404040" stroke-width="0.65"/>
<line x1="190.3" y1="65.08" x2="192.5" y2="65.08" stroke="#404040" stroke-width="0.65"/>
<line x1="291.2" y1="65.08" x2="289" y2="65.08" stroke="#404040" stroke-width="0.65"/>
<line x1="190.3" y1="63.43" x2="192.5" y2="63.43" stroke="#404040" stroke-width="0.65"/>
<line x1="291.2" y1="63.43" x2="289" y2="63.43" stroke="#404040" stroke-width="0.65"/>
<line x1="190.3" y1="61.81" x2="192.5" y2="61.81" stroke="#404040" stroke-width="0.65"/>
<line x1="291.2" y1="61.81" x2="289" y2="61.81" stroke="#404040" stroke-width="0.65"/>
<line x1="190.3" y1="60.21" x2="192.5" y2="60.21" stroke="#404040" stroke-width="0.65"/>
<line x1="291.2" y1="60.21" x2="289" y2="60.21" stroke="#404040" stroke-width="0.65"/>
<line x1="190.3" y1="58.63" x2="192.5" y2="58.63" stroke="#404040" stroke-width="0.65"/>
<line x1="291.2" y1="58.63" x2="289" y2="58.63" stroke="#404040" stroke-width="0.65"/>
<line x1="190.3" y1="57.07" x2="193.7" y2="57.07" stroke="#404040" stroke-width="0.65"/>
<line x1="291.2" y1="57.07" x2="287.8" y2="57.07" stroke="#404040" stroke-width="0.65"/>
<line x1="190.3" y1="55.54" x2="192.5" y2="55.54" stroke="#404040" stroke-width="0.65"/>
<line x1="291.2" y1="55.54" x2="289" y2="55.54" stroke="#404040" stroke-width="0.65"/>
<line x1="190.3" y1="54.02" x2="192.5" y2="54.02" stroke="#404040" stroke-width="0.65"/>
<line x1="291.2" y1="54.02" x2="289" y2="54.02" stroke="#404040" stroke-width="0.65"/>
<line x1="190.3" y1="52.53" x2="192.5" y2="52.53" stroke="#404040" stroke-width="0.65"/>
<line x1="291.2" y1="52.53" x2="289" y2="52.53" stroke="#404040" stroke-width="0.65"/>
<line x1="190.3" y1="51.06" x2="192.5" y2="51.06" stroke="#404040" stroke-width="0.65"/>
<line x1="291.2" y1="51.06" x2="289" y2="51.06" stroke="#404040" stroke-width="0.65"/>
<line x1="190.3" y1="49.61" x2="192.5" y2="49.61" stroke="#404040" stroke-width="0.65"/>
<line x1="291.2" y1="49.61" x2="289" y2="49.61" stroke="#404040" stroke-width="0.65"/>
<line x1="190.3" y1="48.18" x2="192.5" y2="48.18" stroke="#404040" stroke-width="0.65"/>
<line x1="291.2" y1="48.18" x2="289" y2="48.18" stroke="#404040" stroke-width="0.65"/>
<line x1="190.3" y1="46.76" x2="192.5" y2="46.76" stroke="#404040" stroke-width="0.65"/>
<line x1="291.2" y1="46.76" x2="289" y2="46.76" stroke="#404040" stroke-width="0.65"/>
<line x1="190.3" y1="45.37" x2="192.5" y2="45.37" stroke="#404040" stroke-width="0.65"/>
<line x1="291.2" y1="45.37" x2="289" y2="45.37" stroke="#404040" stroke-width="0.65"/>
<line x1="190.3" y1="43.99" x2="192.5" y2="43.99" stroke="#404040" stroke-width="0.65"/>
<line x1="291.2" y1="43.99" x2="289" y2="43.99" stroke="#404040" stroke-width="0.65"/>
<line x1="190.3" y1="42.63" x2="195.1" y2="42.63" stroke="#404040" stroke-width="0.65"/>
<line x1="291.2" y1="42.63" x2="286.4" y2="42.63" stroke="#404040" stroke-width="0.65"/>
<g fill="url(#b1)">
<circle cx="200" cy="51.3" r="2.6"/>
<circle cx="205.6" cy="60" r="2.6"/>
<circle cx="210.6" cy="64.4" r="2.6"/>
<circle cx="215.6" cy="66.9" r="2.6"/>
<circle cx="220.6" cy="68.5" r="2.6"/>
<circle cx="225.4" cy="68.75" r="2.6"/>
<circle cx="229.4" cy="71.9" r="2.6"/>
<circle cx="234.1" cy="69.4" r="2.6"/>
<circle cx="238.75" cy="71.9" r="2.6"/>
<circle cx="242.5" cy="73.1" r="2.6"/>
<circle cx="246.9" cy="71.5" r="2.6"/>
<circle cx="251.25" cy="74" r="2.6"/>
<circle cx="255" cy="72.75" r="2.6"/>
<circle cx="258.6" cy="74.3" r="2.6"/>
<circle cx="262" cy="74" r="2.6"/>
<circle cx="265.3" cy="75" r="2.6"/>
<circle cx="268.5" cy="74.8" r="2.6"/>
<circle cx="271.6" cy="75.6" r="2.6"/>
<circle cx="274.4" cy="75.9" r="2.6"/>
<circle cx="277" cy="76.6" r="2.6"/>
<circle cx="279.3" cy="77" r="2.6"/>
</g>
<polyline fill="none" stroke="#16040c" stroke-width="0.9" stroke-linejoin="round" stroke-linecap="round" points="200,51.3 202.5,56.2 205.6,60.2 210.6,64.2 215.6,66.6 222,68.6 232,70.6 245,72.4 260,74.4 279.3,77"/>
<g fill="url(#b2)">
<circle cx="200" cy="62.5" r="2.6"/>
<circle cx="205.25" cy="74.75" r="2.6"/>
<circle cx="210.6" cy="78.5" r="2.6"/>
<circle cx="215.6" cy="80.6" r="2.6"/>
<circle cx="220.6" cy="83.6" r="2.6"/>
<circle cx="225.4" cy="81.1" r="2.6"/>
<circle cx="230" cy="83.1" r="2.6"/>
<circle cx="234.4" cy="86.25" r="2.6"/>
<circle cx="238.75" cy="85" r="2.6"/>
<circle cx="243" cy="85" r="2.6"/>
<circle cx="246.9" cy="85.6" r="2.6"/>
<circle cx="251.25" cy="86" r="2.6"/>
<circle cx="255" cy="87.5" r="2.6"/>
<circle cx="258.6" cy="87.9" r="2.6"/>
<circle cx="262" cy="88.2" r="2.6"/>
<circle cx="265.3" cy="88.9" r="2.6"/>
<circle cx="268.5" cy="89" r="2.6"/>
<circle cx="271.6" cy="89.6" r="2.6"/>
<circle cx="274.4" cy="89.9" r="2.6"/>
<circle cx="277" cy="90.3" r="2.6"/>
<circle cx="279.3" cy="90.7" r="2.6"/>
</g>
<polyline fill="none" stroke="#1a0406" stroke-width="0.9" stroke-linejoin="round" stroke-linecap="round" points="200,62.5 202.3,69.4 205.25,74.6 210.6,78.6 215.6,80.8 222,82.4 232,84.4 245,86.2 260,88.2 279.3,90.7"/>
<g fill="url(#b3)">
<circle cx="199.75" cy="93.1" r="2.6"/>
<circle cx="205.6" cy="101" r="2.6"/>
<circle cx="210.4" cy="105.6" r="2.6"/>
<circle cx="215.6" cy="105" r="2.6"/>
<circle cx="220.4" cy="105.6" r="2.6"/>
<circle cx="225" cy="107.75" r="2.6"/>
<circle cx="229.4" cy="106" r="2.6"/>
<circle cx="234.4" cy="108.1" r="2.6"/>
<circle cx="238.75" cy="107.25" r="2.6"/>
<circle cx="242.5" cy="107.75" r="2.6"/>
<circle cx="246.6" cy="104.4" r="2.6"/>
<circle cx="251.25" cy="106.25" r="2.6"/>
<circle cx="254.8" cy="108.1" r="2.6"/>
<circle cx="258.6" cy="108.6" r="2.6"/>
<circle cx="262" cy="109" r="2.6"/>
<circle cx="265.3" cy="109.8" r="2.6"/>
<circle cx="268.5" cy="109.6" r="2.6"/>
<circle cx="271.6" cy="110.4" r="2.6"/>
<circle cx="274.4" cy="110.9" r="2.6"/>
<circle cx="277" cy="111.5" r="2.6"/>
<circle cx="279.3" cy="112" r="2.6"/>
</g>
<polyline fill="none" stroke="#1a0406" stroke-width="1.2" stroke-linejoin="round" stroke-linecap="round" points="199.75,93.1 202.5,97.6 205.6,101.2 209,103.8 214,105.2 222,106 235,107 250,108 265,109.6 279.3,112"/>
<g fill="url(#b4)">
<circle cx="199.75" cy="136.5" r="2.6"/>
<circle cx="205" cy="141.9" r="2.6"/>
<circle cx="210.6" cy="141.9" r="2.6"/>
<circle cx="215.6" cy="146.5" r="2.6"/>
<circle cx="220.6" cy="145" r="2.6"/>
<circle cx="225.4" cy="143.75" r="2.6"/>
<circle cx="229.4" cy="149" r="2.6"/>
<circle cx="234.1" cy="145.6" r="2.6"/>
<circle cx="238.5" cy="147.25" r="2.6"/>
<circle cx="242.5" cy="145.1" r="2.6"/>
<circle cx="246.4" cy="148.1" r="2.6"/>
<circle cx="250.7" cy="150.6" r="2.6"/>
<circle cx="254.7" cy="147.25" r="2.6"/>
<circle cx="258.75" cy="154" r="2.6"/>
<circle cx="262.5" cy="153.5" r="2.6"/>
<circle cx="267.5" cy="150.6" r="2.6"/>
<circle cx="271.9" cy="149" r="2.6"/>
<circle cx="275.6" cy="150.6" r="2.6"/>
<circle cx="278.75" cy="154.75" r="2.6"/>
</g>
<polyline fill="none" stroke="#2a080a" stroke-width="1.3" stroke-linejoin="round" stroke-linecap="round" points="199.9,136.9 202,139.4 205,141.6 209,143.3 215,144.5 225,145.6 235,147.4 255,149.5 278.75,153.1"/>
<g fill="url(#b5)">
<circle cx="199.75" cy="193.75" r="2.5"/>
<circle cx="205" cy="197.5" r="2.5"/>
<circle cx="210.6" cy="195.6" r="2.5"/>
<circle cx="215.6" cy="196.25" r="2.5"/>
<circle cx="220.6" cy="196.9" r="2.5"/>
<circle cx="225.4" cy="198.5" r="2.5"/>
<circle cx="229.4" cy="198.1" r="2.5"/>
<circle cx="233.75" cy="200" r="2.5"/>
<circle cx="238.1" cy="194.4" r="2.5"/>
<circle cx="242.5" cy="196.9" r="2.5"/>
<circle cx="246.9" cy="197.6" r="2.5"/>
<circle cx="250.6" cy="200.6" r="2.5"/>
<circle cx="254.6" cy="200.6" r="2.5"/>
<circle cx="258" cy="196" r="2.5"/>
<circle cx="262.5" cy="201.25" r="2.5"/>
<circle cx="266.25" cy="203" r="2.5"/>
<circle cx="271.25" cy="203.5" r="2.5"/>
<circle cx="275.6" cy="199.75" r="2.5"/>
<circle cx="278.75" cy="200.6" r="2.5"/>
</g>
<polyline fill="none" stroke="#2a080a" stroke-width="1.5" stroke-linejoin="round" stroke-linecap="round" points="200,195 235,197.6 255,199.7 278.75,201.9"/>
<g fill="url(#b6)">
<circle cx="199.75" cy="268.1" r="2.5"/>
<circle cx="205" cy="265" r="2.5"/>
<circle cx="210" cy="269.4" r="2.5"/>
<circle cx="215" cy="271.9" r="2.5"/>
<circle cx="220.6" cy="268.1" r="2.5"/>
<circle cx="225.4" cy="269.4" r="2.5"/>
<circle cx="229.4" cy="272.5" r="2.5"/>
<circle cx="233.75" cy="274" r="2.5"/>
<circle cx="238.1" cy="268.5" r="2.5"/>
<circle cx="242.5" cy="274" r="2.5"/>
<circle cx="246.9" cy="271.25" r="2.5"/>
<circle cx="251" cy="274.2" r="2.5"/>
<circle cx="255.4" cy="275.4" r="2.5"/>
<circle cx="258.4" cy="269.6" r="2.5"/>
<circle cx="262.5" cy="275.6" r="2.5"/>
<circle cx="267.5" cy="277.5" r="2.5"/>
<circle cx="271.5" cy="277.6" r="2.5"/>
<circle cx="275.6" cy="271.9" r="2.5"/>
<circle cx="278.5" cy="275.6" r="2.5"/>
</g>
<polyline fill="none" stroke="#30090c" stroke-width="1.6" stroke-linejoin="round" stroke-linecap="round" points="200,267.2 235,271.3 255,273.7 278.75,275.7"/>
<text x="285.6" y="64.3" font-size="9.5" text-anchor="end" fill="#0c0c0c">24.3 mJ/cm<tspan font-size="6" dy="-3.5">2</tspan></text>
<text x="285.4" y="98.8" font-size="9.5" text-anchor="end" fill="#0c0c0c">20.8 mJ/cm<tspan font-size="6" dy="-3.5">2</tspan></text>
<text x="285.8" y="119.7" font-size="9.5" text-anchor="end" fill="#0c0c0c">17.3 mJ/cm<tspan font-size="6" dy="-3.5">2</tspan></text>
<text x="285.4" y="141.6" font-size="9.5" text-anchor="end" fill="#0c0c0c">15.6 mJ/cm<tspan font-size="6" dy="-3.5">2</tspan></text>
<text x="283.6" y="190.1" font-size="9.5" text-anchor="end" fill="#0c0c0c">13.8 mJ/cm<tspan font-size="6" dy="-3.5">2</tspan></text>
<text x="283.6" y="265.1" font-size="9.5" text-anchor="end" fill="#0c0c0c">12.1 mJ/cm<tspan font-size="6" dy="-3.5">2</tspan></text>
<text x="183.9" y="270.2" font-size="9.2" text-anchor="end" fill="#0c0c0c">100</text>
<text x="183.9" y="195.24" font-size="9.2" text-anchor="end" fill="#0c0c0c">200</text>
<text x="183.9" y="151.4" font-size="9.2" text-anchor="end" fill="#0c0c0c">300</text>
<text x="183.9" y="120.29" font-size="9.2" text-anchor="end" fill="#0c0c0c">400</text>
<text x="183.9" y="96.16" font-size="9.2" text-anchor="end" fill="#0c0c0c">500</text>
<text x="183.9" y="76.44" font-size="9.2" text-anchor="end" fill="#0c0c0c">600</text>
<text x="183.9" y="59.77" font-size="9.2" text-anchor="end" fill="#0c0c0c">700</text>
<text x="183.9" y="45.33" font-size="9.2" text-anchor="end" fill="#0c0c0c">800</text>
<text x="200.3" y="305.6" font-size="9.2" text-anchor="middle" fill="#0c0c0c">0</text>
<text x="220.62" y="305.6" font-size="9.2" text-anchor="middle" fill="#0c0c0c">4</text>
<text x="240.94" y="305.6" font-size="9.2" text-anchor="middle" fill="#0c0c0c">8</text>
<text x="261.26" y="305.6" font-size="9.2" text-anchor="middle" fill="#0c0c0c">12</text>
<text x="281.58" y="305.6" font-size="9.2" text-anchor="middle" fill="#0c0c0c">16</text>
<text x="241" y="318.2" font-size="9.5" text-anchor="middle" fill="#0c0c0c"><tspan font-style="italic">E</tspan> −<tspan font-style="italic" dx="0.5">E</tspan><tspan font-size="5.8" dy="1.8">0</tspan><tspan dy="-1.8"> (meV)</tspan></text>
<text transform="translate(165.6 167.5) rotate(-90)" font-size="9.5" text-anchor="middle" fill="#0c0c0c"><tspan font-style="italic">N</tspan> (E)</text>
<rect x="334.6" y="31.5" width="169.4" height="256" fill="#fff" stroke="#404040" stroke-width="0.9"/>
<line x1="334.6" y1="159.9" x2="504" y2="159.9" stroke="#404040" stroke-width="0.9"/>
<line x1="344.1" y1="287.5" x2="344.1" y2="285.1" stroke="#404040" stroke-width="0.9"/>
<line x1="344.1" y1="158.1" x2="344.1" y2="161.7" stroke="#404040" stroke-width="0.9"/>
<line x1="367" y1="287.5" x2="367" y2="282.7" stroke="#404040" stroke-width="0.9"/>
<line x1="367" y1="154.7" x2="367" y2="163.1" stroke="#404040" stroke-width="0.9"/>
<line x1="389.9" y1="287.5" x2="389.9" y2="285.1" stroke="#404040" stroke-width="0.9"/>
<line x1="389.9" y1="158.1" x2="389.9" y2="161.7" stroke="#404040" stroke-width="0.9"/>
<line x1="412.8" y1="287.5" x2="412.8" y2="282.7" stroke="#404040" stroke-width="0.9"/>
<line x1="412.8" y1="154.7" x2="412.8" y2="163.1" stroke="#404040" stroke-width="0.9"/>
<line x1="435.7" y1="287.5" x2="435.7" y2="285.1" stroke="#404040" stroke-width="0.9"/>
<line x1="435.7" y1="158.1" x2="435.7" y2="161.7" stroke="#404040" stroke-width="0.9"/>
<line x1="458.6" y1="287.5" x2="458.6" y2="282.7" stroke="#404040" stroke-width="0.9"/>
<line x1="458.6" y1="154.7" x2="458.6" y2="163.1" stroke="#404040" stroke-width="0.9"/>
<line x1="481.5" y1="287.5" x2="481.5" y2="285.1" stroke="#404040" stroke-width="0.9"/>
<line x1="481.5" y1="158.1" x2="481.5" y2="161.7" stroke="#404040" stroke-width="0.9"/>
<line x1="360.8" y1="31.5" x2="360.8" y2="33.9" stroke="#404040" stroke-width="0.9"/>
<line x1="399.8" y1="31.5" x2="399.8" y2="36.3" stroke="#404040" stroke-width="0.9"/>
<line x1="438.8" y1="31.5" x2="438.8" y2="33.9" stroke="#404040" stroke-width="0.9"/>
<line x1="477.8" y1="31.5" x2="477.8" y2="36.3" stroke="#404040" stroke-width="0.9"/>
<line x1="334.6" y1="49.85" x2="336.8" y2="49.85" stroke="#404040" stroke-width="0.9"/>
<line x1="504" y1="49.85" x2="501.8" y2="49.85" stroke="#404040" stroke-width="0.9"/>
<line x1="334.6" y1="68.2" x2="339.4" y2="68.2" stroke="#404040" stroke-width="0.9"/>
<line x1="504" y1="68.2" x2="499.2" y2="68.2" stroke="#404040" stroke-width="0.9"/>
<line x1="334.6" y1="86.55" x2="336.8" y2="86.55" stroke="#404040" stroke-width="0.9"/>
<line x1="504" y1="86.55" x2="501.8" y2="86.55" stroke="#404040" stroke-width="0.9"/>
<line x1="334.6" y1="104.9" x2="339.4" y2="104.9" stroke="#404040" stroke-width="0.9"/>
<line x1="504" y1="104.9" x2="499.2" y2="104.9" stroke="#404040" stroke-width="0.9"/>
<line x1="334.6" y1="123.25" x2="336.8" y2="123.25" stroke="#404040" stroke-width="0.9"/>
<line x1="504" y1="123.25" x2="501.8" y2="123.25" stroke="#404040" stroke-width="0.9"/>
<line x1="334.6" y1="141.6" x2="339.4" y2="141.6" stroke="#404040" stroke-width="0.9"/>
<line x1="504" y1="141.6" x2="499.2" y2="141.6" stroke="#404040" stroke-width="0.9"/>
<line x1="334.6" y1="264.3" x2="339.4" y2="264.3" stroke="#404040" stroke-width="0.9"/>
<line x1="504" y1="264.3" x2="499.2" y2="264.3" stroke="#404040" stroke-width="0.9"/>
<line x1="334.6" y1="252.65" x2="336.8" y2="252.65" stroke="#404040" stroke-width="0.9"/>
<line x1="504" y1="252.65" x2="501.8" y2="252.65" stroke="#404040" stroke-width="0.9"/>
<line x1="334.6" y1="241" x2="339.4" y2="241" stroke="#404040" stroke-width="0.9"/>
<line x1="504" y1="241" x2="499.2" y2="241" stroke="#404040" stroke-width="0.9"/>
<line x1="334.6" y1="229.35" x2="336.8" y2="229.35" stroke="#404040" stroke-width="0.9"/>
<line x1="504" y1="229.35" x2="501.8" y2="229.35" stroke="#404040" stroke-width="0.9"/>
<line x1="334.6" y1="217.7" x2="339.4" y2="217.7" stroke="#404040" stroke-width="0.9"/>
<line x1="504" y1="217.7" x2="499.2" y2="217.7" stroke="#404040" stroke-width="0.9"/>
<line x1="334.6" y1="206.05" x2="336.8" y2="206.05" stroke="#404040" stroke-width="0.9"/>
<line x1="504" y1="206.05" x2="501.8" y2="206.05" stroke="#404040" stroke-width="0.9"/>
<line x1="334.6" y1="194.4" x2="339.4" y2="194.4" stroke="#404040" stroke-width="0.9"/>
<line x1="504" y1="194.4" x2="499.2" y2="194.4" stroke="#404040" stroke-width="0.9"/>
<line x1="334.6" y1="182.75" x2="336.8" y2="182.75" stroke="#404040" stroke-width="0.9"/>
<line x1="504" y1="182.75" x2="501.8" y2="182.75" stroke="#404040" stroke-width="0.9"/>
<line x1="334.6" y1="171.1" x2="339.4" y2="171.1" stroke="#404040" stroke-width="0.9"/>
<line x1="504" y1="171.1" x2="499.2" y2="171.1" stroke="#404040" stroke-width="0.9"/>
<line x1="334.6" y1="159.45" x2="336.8" y2="159.45" stroke="#404040" stroke-width="0.9"/>
<line x1="504" y1="159.45" x2="501.8" y2="159.45" stroke="#404040" stroke-width="0.9"/>
<line x1="334.6" y1="111.6" x2="362" y2="111.6" stroke="#b2b2b2" stroke-width="0.6"/>
<line x1="362" y1="111.6" x2="362" y2="159.9" stroke="#b2b2b2" stroke-width="0.6"/>
<line x1="334.6" y1="229.5" x2="362" y2="229.5" stroke="#d8484c" stroke-width="0.7"/>
<line x1="362" y1="229.5" x2="362" y2="287.5" stroke="#d8484c" stroke-width="0.7"/>
<circle cx="334.6" cy="229.5" r="1" fill="#7a1418"/><circle cx="362" cy="287.5" r="1" fill="#7a1418"/>
<g stroke="#905860" stroke-width="0.8" fill="none">
<path d="M344 41.7V65.3M339.4 41.7H348.6M339.4 65.3H348.6"/>
<path d="M348.4 77.2V100.3M343.8 77.2H353M343.8 100.3H353"/>
<path d="M352.9 80.4V103.8M348.3 80.4H357.5M348.3 103.8H357.5"/>
<path d="M357.6 99.9V116.8M353 99.9H362.2M353 116.8H362.2"/>
<path d="M362.1 103.7V120.3M357.5 103.7H366.7M357.5 120.3H366.7"/>
<path d="M366.6 112.9V127.8M362 112.9H371.2M362 127.8H371.2"/>
<path d="M376.3 123.2V139.5M371.7 123.2H380.9M371.7 139.5H380.9"/>
<path d="M385.2 123.8V140M380.6 123.8H389.8M380.6 140H389.8"/>
<path d="M394.4 125.3V140.9M389.8 125.3H399M389.8 140.9H399"/>
<path d="M403.7 127.3V142.2M399.1 127.3H408.3M399.1 142.2H408.3"/>
<path d="M412.7 127.3V142.2M408.1 127.3H417.3M408.1 142.2H417.3"/>
<path d="M436 132.7V147.6M431.4 132.7H440.6M431.4 147.6H440.6"/>
</g>
<g stroke="#cc5a66" stroke-width="0.8" fill="#f9dfe2">
<circle cx="344" cy="54.1" r="3.05"/>
<circle cx="348.4" cy="89.1" r="3.05"/>
<circle cx="352.9" cy="92.1" r="3.05"/>
<circle cx="357.6" cy="108.1" r="3.05"/>
<circle cx="362.1" cy="112.4" r="3.05"/>
<circle cx="366.6" cy="120.3" r="3.05"/>
<circle cx="376.3" cy="131" r="3.05"/>
<circle cx="385.2" cy="131.7" r="3.05"/>
<circle cx="394.4" cy="133" r="3.05"/>
<circle cx="403.7" cy="134.7" r="3.05"/>
<circle cx="412.7" cy="134.7" r="3.05"/>
<circle cx="436" cy="140.2" r="3.05"/>
</g>
<g stroke="#905860" stroke-width="0.8" fill="none">
<path d="M352.9 177.8V203.9M348.3 177.8H357.5M348.3 203.9H357.5"/>
<path d="M357.6 190.2V216.1M353 190.2H362.2M353 216.1H362.2"/>
<path d="M362.1 216.1V242.4M357.5 216.1H366.7M357.5 242.4H366.7"/>
<path d="M366.6 242.4V260.5M362 242.4H371.2M362 260.5H371.2"/>
<path d="M375.8 248.1V265.5M371.2 248.1H380.4M371.2 265.5H380.4"/>
<path d="M385.2 248.6V265.7M380.6 248.6H389.8M380.6 265.7H389.8"/>
<path d="M394.4 250.6V266.7M389.8 250.6H399M389.8 266.7H399"/>
<path d="M403.5 252.3V266M398.9 252.3H408.1M398.9 266H408.1"/>
<path d="M412.7 253.5V267.2M408.1 253.5H417.3M408.1 267.2H417.3"/>
<path d="M436 257.3V269.7M431.4 257.3H440.6M431.4 269.7H440.6"/>
<path d="M458.9 259.8V272.2M454.3 259.8H463.5M454.3 272.2H463.5"/>
<path d="M481.5 260.2V272.7M476.9 260.2H486.1M476.9 272.7H486.1"/>
</g>
<g stroke="#cc5a66" stroke-width="0.8" fill="#f9dfe2">
<circle cx="352.9" cy="191" r="3.05"/>
<circle cx="357.6" cy="203.4" r="3.05"/>
<circle cx="362.1" cy="229.5" r="3.05"/>
<circle cx="366.6" cy="251.1" r="3.05"/>
<circle cx="375.8" cy="256.8" r="3.05"/>
<circle cx="385.2" cy="257.3" r="3.05"/>
<circle cx="394.4" cy="258.5" r="3.05"/>
<circle cx="403.5" cy="259" r="3.05"/>
<circle cx="412.7" cy="260.2" r="3.05"/>
<circle cx="436" cy="263.5" r="3.05"/>
<circle cx="458.9" cy="266" r="3.05"/>
<circle cx="481.5" cy="266.5" r="3.05"/>
</g>
<text x="328.6" y="34.3" font-size="9.2" text-anchor="end" fill="#0c0c0c">6</text>
<text x="328.6" y="86.4" font-size="9.2" text-anchor="end" fill="#0c0c0c">5</text>
<text x="328.6" y="137.1" font-size="9.2" text-anchor="end" fill="#0c0c0c">4</text>
<text x="328.6" y="290.8" font-size="9.2" text-anchor="end" fill="#0c0c0c">1</text>
<text x="328.6" y="267.5" font-size="9.2" text-anchor="end" fill="#0c0c0c">2</text>
<text x="328.6" y="244.2" font-size="9.2" text-anchor="end" fill="#0c0c0c">3</text>
<text x="328.6" y="220.9" font-size="9.2" text-anchor="end" fill="#0c0c0c">4</text>
<text x="328.6" y="197.6" font-size="9.2" text-anchor="end" fill="#0c0c0c">5</text>
<text x="328.6" y="174.3" font-size="9.2" text-anchor="end" fill="#0c0c0c">6</text>
<text x="367" y="300.8" font-size="9.2" text-anchor="middle" fill="#0c0c0c">10</text>
<text x="412.8" y="300.8" font-size="9.2" text-anchor="middle" fill="#0c0c0c">20</text>
<text x="458.6" y="300.8" font-size="9.2" text-anchor="middle" fill="#0c0c0c">30</text>
<text x="504.4" y="300.8" font-size="9.2" text-anchor="middle" fill="#0c0c0c">40</text>
<text x="399.8" y="22.6" font-size="9.2" text-anchor="middle" fill="#0c0c0c">30</text>
<text x="477.6" y="22.6" font-size="9.2" text-anchor="middle" fill="#0c0c0c">60</text>
<text x="419" y="8.6" font-size="9.3" text-anchor="middle" fill="#0c0c0c">Excitation fluence (mJ/cm<tspan font-size="5.8" dy="-3.4">2</tspan><tspan dy="3.4">)</tspan></text>
<text x="416" y="317.4" font-size="9.3" text-anchor="middle" fill="#0c0c0c">Excitation energy (nJ/pulse)</text>
<text transform="translate(313.6 98.5) rotate(-90)" font-size="9.5" text-anchor="middle" fill="#0c0c0c"><tspan font-style="italic">T</tspan><tspan font-size="5.8" dy="1.8">eff</tspan><tspan dy="-1.8"> (10</tspan><tspan font-size="5.8" dy="-3.4">2</tspan><tspan dy="3.4"> K)</tspan></text>
<text transform="translate(313.6 226) rotate(-90)" font-size="9.5" text-anchor="middle" fill="#0c0c0c"><tspan font-style="italic">T</tspan><tspan font-size="5.8" dy="1.8">eff</tspan><tspan dy="-1.8"> (10</tspan><tspan font-size="5.8" dy="-3.4">2</tspan><tspan dy="3.4"> K)</tspan></text>
<linearGradient id="hm1" x1="0" y1="0" x2="0" y2="1"><stop offset="0" stop-color="#120830"/><stop offset="0.09" stop-color="#1a0a3e"/><stop offset="0.12" stop-color="#2e125a"/><stop offset="0.2" stop-color="#44186c"/><stop offset="0.24" stop-color="#5e1e76"/><stop offset="0.29" stop-color="#7e2474"/><stop offset="0.33" stop-color="#9c2e66"/><stop offset="0.36" stop-color="#c04650"/><stop offset="0.38" stop-color="#dc5e40"/><stop offset="0.39" stop-color="#e66a38"/><stop offset="0.41" stop-color="#d45640"/><stop offset="0.43" stop-color="#b43a56"/><stop offset="0.51" stop-color="#bc4052"/><stop offset="0.55" stop-color="#cc4a48"/><stop offset="0.63" stop-color="#d8563c"/><stop offset="0.7" stop-color="#e06434"/><stop offset="0.73" stop-color="#ea7c2a"/><stop offset="0.77" stop-color="#f08e22"/><stop offset="1" stop-color="#f59c20"/></linearGradient>
<rect x="408.8" y="44.9" width="84" height="55.7" fill="url(#hm1)"/>
<g shape-rendering="crispEdges">
<rect x="410.71" y="54.17" width="1.91" height="46.43" fill="#ffe070" fill-opacity="0.06"/>
<rect x="412.62" y="46.54" width="1.91" height="54.06" fill="#30083a" fill-opacity="0.05"/>
<rect x="414.53" y="45.23" width="1.91" height="55.37" fill="#30083a" fill-opacity="0.04"/>
<rect x="418.35" y="50.77" width="1.91" height="49.83" fill="#30083a" fill-opacity="0.03"/>
<rect x="420.25" y="65.87" width="1.91" height="34.73" fill="#ffe070" fill-opacity="0.05"/>
<rect x="424.07" y="48.68" width="1.91" height="51.92" fill="#30083a" fill-opacity="0.06"/>
<rect x="427.89" y="58.01" width="1.91" height="42.59" fill="#30083a" fill-opacity="0.06"/>
<rect x="429.8" y="63.48" width="1.91" height="37.12" fill="#30083a" fill-opacity="0.07"/>
<rect x="437.44" y="52.45" width="1.91" height="48.15" fill="#30083a" fill-opacity="0.06"/>
<rect x="439.35" y="56.75" width="1.91" height="43.85" fill="#ffe070" fill-opacity="0.09"/>
<rect x="445.07" y="62.8" width="1.91" height="37.8" fill="#30083a" fill-opacity="0.09"/>
<rect x="446.98" y="64.97" width="1.91" height="35.63" fill="#ffe070" fill-opacity="0.04"/>
<rect x="448.89" y="56.04" width="1.91" height="44.56" fill="#30083a" fill-opacity="0.02"/>
<rect x="450.8" y="47.34" width="1.91" height="53.26" fill="#ffe070" fill-opacity="0.08"/>
<rect x="452.71" y="48.31" width="1.91" height="52.29" fill="#30083a" fill-opacity="0.04"/>
<rect x="454.62" y="55.83" width="1.91" height="44.77" fill="#ffe070" fill-opacity="0.02"/>
<rect x="456.53" y="60.61" width="1.91" height="39.99" fill="#ffe070" fill-opacity="0.11"/>
<rect x="460.35" y="54.57" width="1.91" height="46.03" fill="#ffe070" fill-opacity="0.05"/>
<rect x="462.25" y="59.54" width="1.91" height="41.06" fill="#30083a" fill-opacity="0.04"/>
<rect x="464.16" y="67.56" width="1.91" height="33.04" fill="#ffe070" fill-opacity="0.05"/>
<rect x="466.07" y="66.37" width="1.91" height="34.23" fill="#30083a" fill-opacity="0.04"/>
<rect x="467.98" y="69.74" width="1.91" height="30.86" fill="#30083a" fill-opacity="0.09"/>
<rect x="471.8" y="66.47" width="1.91" height="34.13" fill="#30083a" fill-opacity="0.02"/>
<rect x="473.71" y="59.16" width="1.91" height="41.44" fill="#ffe070" fill-opacity="0.1"/>
<rect x="475.62" y="62.79" width="1.91" height="37.81" fill="#30083a" fill-opacity="0.02"/>
<rect x="477.53" y="59.28" width="1.91" height="41.32" fill="#ffe070" fill-opacity="0.02"/>
<rect x="479.44" y="52.04" width="1.91" height="48.56" fill="#ffe070" fill-opacity="0.08"/>
<rect x="481.35" y="69.71" width="1.91" height="30.89" fill="#ffe070" fill-opacity="0.08"/>
<rect x="483.25" y="47.12" width="1.91" height="53.48" fill="#ffe070" fill-opacity="0.03"/>
<rect x="487.07" y="48.68" width="1.91" height="51.92" fill="#30083a" fill-opacity="0.04"/>
<rect x="488.98" y="66.78" width="1.91" height="33.82" fill="#30083a" fill-opacity="0.02"/>
<rect x="490.89" y="46.01" width="1.91" height="54.59" fill="#ffe070" fill-opacity="0.07"/>
<rect x="410.71" y="44.9" width="1.91" height="3.09" fill="#1a0530" fill-opacity="0.01"/>
<rect x="422.16" y="44.9" width="1.91" height="3.09" fill="#1a0530" fill-opacity="0.05"/>
<rect x="425.98" y="44.9" width="1.91" height="3.09" fill="#ffd060" fill-opacity="0.02"/>
<rect x="431.71" y="44.9" width="1.91" height="3.09" fill="#ffd060" fill-opacity="0.06"/>
<rect x="471.8" y="44.9" width="1.91" height="3.09" fill="#1a0530" fill-opacity="0.07"/>
<rect x="473.71" y="44.9" width="1.91" height="3.09" fill="#ffd060" fill-opacity="0.04"/>
<rect x="479.44" y="44.9" width="1.91" height="3.09" fill="#1a0530" fill-opacity="0.05"/>
<rect x="488.98" y="44.9" width="1.91" height="3.09" fill="#1a0530" fill-opacity="0.05"/>
<rect x="490.89" y="44.9" width="1.91" height="3.09" fill="#1a0530" fill-opacity="0.07"/>
<rect x="429.8" y="47.99" width="1.91" height="3.09" fill="#1a0530" fill-opacity="0.12"/>
<rect x="427.89" y="51.09" width="1.91" height="3.09" fill="#ffd060" fill-opacity="0.12"/>
<rect x="452.71" y="51.09" width="1.91" height="3.09" fill="#1a0530" fill-opacity="0.04"/>
<rect x="460.35" y="51.09" width="1.91" height="3.09" fill="#ffd060" fill-opacity="0.08"/>
<rect x="469.89" y="51.09" width="1.91" height="3.09" fill="#1a0530" fill-opacity="0.05"/>
<rect x="429.8" y="54.18" width="1.91" height="3.09" fill="#1a0530" fill-opacity="0.08"/>
<rect x="431.71" y="54.18" width="1.91" height="3.09" fill="#1a0530" fill-opacity="0.09"/>
<rect x="445.07" y="54.18" width="1.91" height="3.09" fill="#ffd060" fill-opacity="0.03"/>
<rect x="448.89" y="54.18" width="1.91" height="3.09" fill="#ffd060" fill-opacity="0.01"/>
<rect x="454.62" y="54.18" width="1.91" height="3.09" fill="#1a0530" fill-opacity="0.05"/>
<rect x="477.53" y="54.18" width="1.91" height="3.09" fill="#1a0530" fill-opacity="0"/>
<rect x="427.89" y="57.28" width="1.91" height="3.09" fill="#1a0530" fill-opacity="0.06"/>
<rect x="462.25" y="57.28" width="1.91" height="3.09" fill="#ffd060" fill-opacity="0.03"/>
<rect x="467.98" y="57.28" width="1.91" height="3.09" fill="#ffd060" fill-opacity="0.02"/>
<rect x="473.71" y="57.28" width="1.91" height="3.09" fill="#ffd060" fill-opacity="0.01"/>
<rect x="490.89" y="57.28" width="1.91" height="3.09" fill="#ffd060" fill-opacity="0.01"/>
<rect x="416.44" y="60.37" width="1.91" height="3.09" fill="#1a0530" fill-opacity="0.07"/>
<rect x="443.16" y="60.37" width="1.91" height="3.09" fill="#1a0530" fill-opacity="0.12"/>
<rect x="466.07" y="60.37" width="1.91" height="3.09" fill="#1a0530" fill-opacity="0"/>
<rect x="422.16" y="63.47" width="1.91" height="3.09" fill="#1a0530" fill-opacity="0.06"/>
<rect x="410.71" y="66.56" width="1.91" height="3.09" fill="#ffd060" fill-opacity="0.01"/>
<rect x="412.62" y="66.56" width="1.91" height="3.09" fill="#ffd060" fill-opacity="0.03"/>
<rect x="420.25" y="66.56" width="1.91" height="3.09" fill="#1a0530" fill-opacity="0.04"/>
<rect x="448.89" y="66.56" width="1.91" height="3.09" fill="#ffd060" fill-opacity="0.05"/>
<rect x="431.71" y="69.66" width="1.91" height="3.09" fill="#1a0530" fill-opacity="0.02"/>
<rect x="448.89" y="69.66" width="1.91" height="3.09" fill="#1a0530" fill-opacity="0.05"/>
<rect x="469.89" y="69.66" width="1.91" height="3.09" fill="#1a0530" fill-opacity="0"/>
<rect x="422.16" y="72.75" width="1.91" height="3.09" fill="#ffd060" fill-opacity="0.04"/>
<rect x="446.98" y="72.75" width="1.91" height="3.09" fill="#1a0530" fill-opacity="0.12"/>
<rect x="462.25" y="72.75" width="1.91" height="3.09" fill="#1a0530" fill-opacity="0.09"/>
<rect x="477.53" y="72.75" width="1.91" height="3.09" fill="#1a0530" fill-opacity="0"/>
<rect x="483.25" y="72.75" width="1.91" height="3.09" fill="#1a0530" fill-opacity="0.12"/>
<rect x="433.62" y="75.84" width="1.91" height="3.09" fill="#1a0530" fill-opacity="0.03"/>
<rect x="435.53" y="75.84" width="1.91" height="3.09" fill="#ffd060" fill-opacity="0.01"/>
<rect x="469.89" y="75.84" width="1.91" height="3.09" fill="#ffd060" fill-opacity="0.03"/>
<rect x="488.98" y="75.84" width="1.91" height="3.09" fill="#ffd060" fill-opacity="0.03"/>
<rect x="408.8" y="78.94" width="1.91" height="3.09" fill="#ffd060" fill-opacity="0.02"/>
<rect x="410.71" y="78.94" width="1.91" height="3.09" fill="#1a0530" fill-opacity="0.06"/>
<rect x="414.53" y="78.94" width="1.91" height="3.09" fill="#ffd060" fill-opacity="0.02"/>
<rect x="420.25" y="78.94" width="1.91" height="3.09" fill="#ffd060" fill-opacity="0.04"/>
<rect x="422.16" y="78.94" width="1.91" height="3.09" fill="#1a0530" fill-opacity="0.01"/>
<rect x="433.62" y="78.94" width="1.91" height="3.09" fill="#1a0530" fill-opacity="0.01"/>
<rect x="452.71" y="78.94" width="1.91" height="3.09" fill="#1a0530" fill-opacity="0.05"/>
<rect x="460.35" y="78.94" width="1.91" height="3.09" fill="#ffd060" fill-opacity="0.03"/>
<rect x="464.16" y="78.94" width="1.91" height="3.09" fill="#ffd060" fill-opacity="0"/>
<rect x="466.07" y="78.94" width="1.91" height="3.09" fill="#1a0530" fill-opacity="0.07"/>
<rect x="479.44" y="78.94" width="1.91" height="3.09" fill="#1a0530" fill-opacity="0.11"/>
<rect x="487.07" y="78.94" width="1.91" height="3.09" fill="#1a0530" fill-opacity="0.03"/>
<rect x="452.71" y="82.03" width="1.91" height="3.09" fill="#ffd060" fill-opacity="0.11"/>
<rect x="460.35" y="82.03" width="1.91" height="3.09" fill="#ffd060" fill-opacity="0.01"/>
<rect x="477.53" y="82.03" width="1.91" height="3.09" fill="#ffd060" fill-opacity="0.12"/>
<rect x="488.98" y="82.03" width="1.91" height="3.09" fill="#1a0530" fill-opacity="0.03"/>
<rect x="490.89" y="82.03" width="1.91" height="3.09" fill="#1a0530" fill-opacity="0.04"/>
<rect x="414.53" y="85.13" width="1.91" height="3.09" fill="#ffd060" fill-opacity="0.02"/>
<rect x="433.62" y="85.13" width="1.91" height="3.09" fill="#ffd060" fill-opacity="0.12"/>
<rect x="439.35" y="85.13" width="1.91" height="3.09" fill="#ffd060" fill-opacity="0.04"/>
<rect x="443.16" y="85.13" width="1.91" height="3.09" fill="#1a0530" fill-opacity="0.01"/>
<rect x="479.44" y="85.13" width="1.91" height="3.09" fill="#1a0530" fill-opacity="0.04"/>
<rect x="481.35" y="85.13" width="1.91" height="3.09" fill="#ffd060" fill-opacity="0.06"/>
<rect x="418.35" y="88.22" width="1.91" height="3.09" fill="#ffd060" fill-opacity="0.01"/>
<rect x="456.53" y="88.22" width="1.91" height="3.09" fill="#ffd060" fill-opacity="0.04"/>
<rect x="466.07" y="88.22" width="1.91" height="3.09" fill="#1a0530" fill-opacity="0"/>
<rect x="483.25" y="88.22" width="1.91" height="3.09" fill="#1a0530" fill-opacity="0.05"/>
<rect x="441.25" y="91.32" width="1.91" height="3.09" fill="#ffd060" fill-opacity="0.05"/>
<rect x="446.98" y="91.32" width="1.91" height="3.09" fill="#ffd060" fill-opacity="0.05"/>
<rect x="460.35" y="91.32" width="1.91" height="3.09" fill="#ffd060" fill-opacity="0"/>
<rect x="466.07" y="91.32" width="1.91" height="3.09" fill="#ffd060" fill-opacity="0.01"/>
<rect x="469.89" y="91.32" width="1.91" height="3.09" fill="#1a0530" fill-opacity="0.02"/>
<rect x="477.53" y="91.32" width="1.91" height="3.09" fill="#ffd060" fill-opacity="0.04"/>
<rect x="422.16" y="94.41" width="1.91" height="3.09" fill="#1a0530" fill-opacity="0.08"/>
<rect x="475.62" y="94.41" width="1.91" height="3.09" fill="#1a0530" fill-opacity="0.1"/>
<rect x="446.98" y="97.51" width="1.91" height="3.09" fill="#ffd060" fill-opacity="0.01"/>
<rect x="448.89" y="97.51" width="1.91" height="3.09" fill="#ffd060" fill-opacity="0.04"/>
<rect x="460.35" y="97.51" width="1.91" height="3.09" fill="#1a0530" fill-opacity="0.03"/>
<rect x="462.25" y="97.51" width="1.91" height="3.09" fill="#ffd060" fill-opacity="0.12"/>
<rect x="471.8" y="97.51" width="1.91" height="3.09" fill="#ffd060" fill-opacity="0.01"/>
<rect x="487.07" y="97.51" width="1.91" height="3.09" fill="#ffd060" fill-opacity="0.12"/>
</g>
<linearGradient id="hm2" x1="0" y1="0" x2="0" y2="1"><stop offset="0" stop-color="#160a36"/><stop offset="0.08" stop-color="#200e48"/><stop offset="0.11" stop-color="#34145e"/><stop offset="0.16" stop-color="#48187a"/><stop offset="0.2" stop-color="#5e1e7e"/><stop offset="0.23" stop-color="#7a2478"/><stop offset="0.28" stop-color="#90296e"/><stop offset="0.32" stop-color="#aa3460"/><stop offset="0.4" stop-color="#c44450"/><stop offset="0.43" stop-color="#d65040"/><stop offset="0.51" stop-color="#e05e32"/><stop offset="0.54" stop-color="#e8722a"/><stop offset="0.63" stop-color="#ee8024"/><stop offset="0.66" stop-color="#f3921e"/><stop offset="0.85" stop-color="#f6a022"/><stop offset="0.86" stop-color="#f9ae2e"/><stop offset="1" stop-color="#fab434"/></linearGradient>
<rect x="408.8" y="172.2" width="84" height="56.6" fill="url(#hm2)"/>
<rect x="408.8" y="221.2" width="24" height="7.6" fill="#fdf2a8"/>
<rect x="432.8" y="221.2" width="31" height="7.6" fill="#fcca4c" fill-opacity="0.9"/>
<rect x="408.8" y="207.8" width="26" height="13.4" fill="#fdd050" fill-opacity="0.3"/>
<g shape-rendering="crispEdges">
<rect x="408.8" y="192.45" width="1.91" height="36.35" fill="#30083a" fill-opacity="0.05"/>
<rect x="410.71" y="196.2" width="1.91" height="32.6" fill="#30083a" fill-opacity="0.05"/>
<rect x="414.53" y="172.94" width="1.91" height="55.86" fill="#30083a" fill-opacity="0.1"/>
<rect x="416.44" y="188.73" width="1.91" height="40.07" fill="#30083a" fill-opacity="0.11"/>
<rect x="418.35" y="195.15" width="1.91" height="33.65" fill="#ffe070" fill-opacity="0.02"/>
<rect x="420.25" y="178.48" width="1.91" height="50.32" fill="#ffe070" fill-opacity="0.04"/>
<rect x="422.16" y="186.05" width="1.91" height="42.75" fill="#ffe070" fill-opacity="0.03"/>
<rect x="429.8" y="195.54" width="1.91" height="33.26" fill="#ffe070" fill-opacity="0.04"/>
<rect x="433.62" y="192.5" width="1.91" height="36.3" fill="#30083a" fill-opacity="0.03"/>
<rect x="435.53" y="175.43" width="1.91" height="53.37" fill="#ffe070" fill-opacity="0.04"/>
<rect x="437.44" y="172.25" width="1.91" height="56.55" fill="#ffe070" fill-opacity="0.05"/>
<rect x="439.35" y="177.69" width="1.91" height="51.11" fill="#ffe070" fill-opacity="0.02"/>
<rect x="441.25" y="197.22" width="1.91" height="31.58" fill="#30083a" fill-opacity="0.02"/>
<rect x="443.16" y="196.69" width="1.91" height="32.11" fill="#ffe070" fill-opacity="0.03"/>
<rect x="445.07" y="185.93" width="1.91" height="42.87" fill="#30083a" fill-opacity="0.03"/>
<rect x="448.89" y="196.17" width="1.91" height="32.63" fill="#30083a" fill-opacity="0.03"/>
<rect x="450.8" y="194.96" width="1.91" height="33.84" fill="#30083a" fill-opacity="0.04"/>
<rect x="452.71" y="179.81" width="1.91" height="48.99" fill="#30083a" fill-opacity="0.11"/>
<rect x="456.53" y="175.91" width="1.91" height="52.89" fill="#ffe070" fill-opacity="0.02"/>
<rect x="458.44" y="187.56" width="1.91" height="41.24" fill="#ffe070" fill-opacity="0.03"/>
<rect x="462.25" y="180.81" width="1.91" height="47.99" fill="#ffe070" fill-opacity="0.07"/>
<rect x="466.07" y="184.44" width="1.91" height="44.36" fill="#30083a" fill-opacity="0.03"/>
<rect x="467.98" y="180.24" width="1.91" height="48.56" fill="#ffe070" fill-opacity="0.08"/>
<rect x="469.89" y="173.65" width="1.91" height="55.15" fill="#30083a" fill-opacity="0.07"/>
<rect x="479.44" y="172.66" width="1.91" height="56.14" fill="#30083a" fill-opacity="0.09"/>
<rect x="483.25" y="186.93" width="1.91" height="41.87" fill="#30083a" fill-opacity="0.04"/>
<rect x="488.98" y="177.21" width="1.91" height="51.59" fill="#ffe070" fill-opacity="0.05"/>
<rect x="490.89" y="191.45" width="1.91" height="37.35" fill="#ffe070" fill-opacity="0.1"/>
<rect x="427.89" y="172.2" width="1.91" height="3.14" fill="#ffd060" fill-opacity="0.02"/>
<rect x="446.98" y="172.2" width="1.91" height="3.14" fill="#1a0530" fill-opacity="0.01"/>
<rect x="456.53" y="172.2" width="1.91" height="3.14" fill="#ffd060" fill-opacity="0.07"/>
<rect x="469.89" y="172.2" width="1.91" height="3.14" fill="#1a0530" fill-opacity="0.01"/>
<rect x="473.71" y="172.2" width="1.91" height="3.14" fill="#1a0530" fill-opacity="0.11"/>
<rect x="443.16" y="175.34" width="1.91" height="3.14" fill="#ffd060" fill-opacity="0"/>
<rect x="481.35" y="175.34" width="1.91" height="3.14" fill="#1a0530" fill-opacity="0.04"/>
<rect x="462.25" y="178.49" width="1.91" height="3.14" fill="#1a0530" fill-opacity="0.01"/>
<rect x="475.62" y="178.49" width="1.91" height="3.14" fill="#1a0530" fill-opacity="0.04"/>
<rect x="477.53" y="178.49" width="1.91" height="3.14" fill="#ffd060" fill-opacity="0.01"/>
<rect x="487.07" y="178.49" width="1.91" height="3.14" fill="#1a0530" fill-opacity="0.06"/>
<rect x="412.62" y="181.63" width="1.91" height="3.14" fill="#ffd060" fill-opacity="0.01"/>
<rect x="425.98" y="181.63" width="1.91" height="3.14" fill="#1a0530" fill-opacity="0.02"/>
<rect x="460.35" y="181.63" width="1.91" height="3.14" fill="#1a0530" fill-opacity="0.02"/>
<rect x="435.53" y="184.78" width="1.91" height="3.14" fill="#1a0530" fill-opacity="0.05"/>
<rect x="481.35" y="184.78" width="1.91" height="3.14" fill="#1a0530" fill-opacity="0.01"/>
<rect x="408.8" y="187.92" width="1.91" height="3.14" fill="#ffd060" fill-opacity="0.01"/>
<rect x="431.71" y="187.92" width="1.91" height="3.14" fill="#1a0530" fill-opacity="0.06"/>
<rect x="460.35" y="187.92" width="1.91" height="3.14" fill="#ffd060" fill-opacity="0.01"/>
<rect x="466.07" y="187.92" width="1.91" height="3.14" fill="#ffd060" fill-opacity="0.11"/>
<rect x="475.62" y="187.92" width="1.91" height="3.14" fill="#ffd060" fill-opacity="0.02"/>
<rect x="414.53" y="191.07" width="1.91" height="3.14" fill="#1a0530" fill-opacity="0.04"/>
<rect x="420.25" y="191.07" width="1.91" height="3.14" fill="#ffd060" fill-opacity="0.07"/>
<rect x="439.35" y="191.07" width="1.91" height="3.14" fill="#ffd060" fill-opacity="0.03"/>
<rect x="477.53" y="191.07" width="1.91" height="3.14" fill="#1a0530" fill-opacity="0.01"/>
<rect x="408.8" y="194.21" width="1.91" height="3.14" fill="#1a0530" fill-opacity="0.02"/>
<rect x="412.62" y="194.21" width="1.91" height="3.14" fill="#ffd060" fill-opacity="0.09"/>
<rect x="462.25" y="194.21" width="1.91" height="3.14" fill="#ffd060" fill-opacity="0.12"/>
<rect x="464.16" y="194.21" width="1.91" height="3.14" fill="#ffd060" fill-opacity="0.01"/>
<rect x="471.8" y="194.21" width="1.91" height="3.14" fill="#ffd060" fill-opacity="0.02"/>
<rect x="483.25" y="194.21" width="1.91" height="3.14" fill="#ffd060" fill-opacity="0.02"/>
<rect x="420.25" y="197.36" width="1.91" height="3.14" fill="#ffd060" fill-opacity="0.03"/>
<rect x="448.89" y="197.36" width="1.91" height="3.14" fill="#ffd060" fill-opacity="0"/>
<rect x="479.44" y="197.36" width="1.91" height="3.14" fill="#ffd060" fill-opacity="0.02"/>
<rect x="481.35" y="197.36" width="1.91" height="3.14" fill="#ffd060" fill-opacity="0.01"/>
<rect x="483.25" y="197.36" width="1.91" height="3.14" fill="#1a0530" fill-opacity="0.06"/>
<rect x="408.8" y="200.5" width="1.91" height="3.14" fill="#ffd060" fill-opacity="0.12"/>
<rect x="414.53" y="200.5" width="1.91" height="3.14" fill="#ffd060" fill-opacity="0.06"/>
<rect x="418.35" y="200.5" width="1.91" height="3.14" fill="#1a0530" fill-opacity="0.02"/>
<rect x="425.98" y="200.5" width="1.91" height="3.14" fill="#ffd060" fill-opacity="0.01"/>
<rect x="427.89" y="200.5" width="1.91" height="3.14" fill="#ffd060" fill-opacity="0.04"/>
<rect x="435.53" y="200.5" width="1.91" height="3.14" fill="#1a0530" fill-opacity="0.01"/>
<rect x="450.8" y="200.5" width="1.91" height="3.14" fill="#1a0530" fill-opacity="0.07"/>
<rect x="473.71" y="200.5" width="1.91" height="3.14" fill="#1a0530" fill-opacity="0.02"/>
<rect x="483.25" y="200.5" width="1.91" height="3.14" fill="#ffd060" fill-opacity="0"/>
<rect x="490.89" y="200.5" width="1.91" height="3.14" fill="#ffd060" fill-opacity="0.03"/>
<rect x="410.71" y="203.64" width="1.91" height="3.14" fill="#ffd060" fill-opacity="0.02"/>
<rect x="414.53" y="203.64" width="1.91" height="3.14" fill="#ffd060" fill-opacity="0.05"/>
<rect x="450.8" y="203.64" width="1.91" height="3.14" fill="#ffd060" fill-opacity="0.02"/>
<rect x="456.53" y="203.64" width="1.91" height="3.14" fill="#ffd060" fill-opacity="0.04"/>
<rect x="462.25" y="203.64" width="1.91" height="3.14" fill="#ffd060" fill-opacity="0.03"/>
<rect x="479.44" y="203.64" width="1.91" height="3.14" fill="#ffd060" fill-opacity="0.01"/>
<rect x="487.07" y="203.64" width="1.91" height="3.14" fill="#1a0530" fill-opacity="0.04"/>
<rect x="439.35" y="206.79" width="1.91" height="3.14" fill="#1a0530" fill-opacity="0.01"/>
<rect x="443.16" y="206.79" width="1.91" height="3.14" fill="#1a0530" fill-opacity="0.06"/>
<rect x="481.35" y="206.79" width="1.91" height="3.14" fill="#1a0530" fill-opacity="0.03"/>
<rect x="485.16" y="206.79" width="1.91" height="3.14" fill="#1a0530" fill-opacity="0.03"/>
<rect x="418.35" y="209.93" width="1.91" height="3.14" fill="#1a0530" fill-opacity="0.12"/>
<rect x="429.8" y="209.93" width="1.91" height="3.14" fill="#1a0530" fill-opacity="0.02"/>
<rect x="460.35" y="209.93" width="1.91" height="3.14" fill="#ffd060" fill-opacity="0.05"/>
<rect x="462.25" y="209.93" width="1.91" height="3.14" fill="#1a0530" fill-opacity="0.05"/>
<rect x="475.62" y="209.93" width="1.91" height="3.14" fill="#ffd060" fill-opacity="0.06"/>
<rect x="422.16" y="213.08" width="1.91" height="3.14" fill="#1a0530" fill-opacity="0.03"/>
<rect x="462.25" y="213.08" width="1.91" height="3.14" fill="#ffd060" fill-opacity="0.02"/>
<rect x="488.98" y="213.08" width="1.91" height="3.14" fill="#ffd060" fill-opacity="0.06"/>
<rect x="420.25" y="216.22" width="1.91" height="3.14" fill="#ffd060" fill-opacity="0.05"/>
<rect x="448.89" y="216.22" width="1.91" height="3.14" fill="#ffd060" fill-opacity="0.05"/>
<rect x="473.71" y="216.22" width="1.91" height="3.14" fill="#ffd060" fill-opacity="0.07"/>
<rect x="485.16" y="216.22" width="1.91" height="3.14" fill="#1a0530" fill-opacity="0.06"/>
<rect x="418.35" y="219.37" width="1.91" height="3.14" fill="#ffd060" fill-opacity="0.04"/>
<rect x="454.62" y="219.37" width="1.91" height="3.14" fill="#1a0530" fill-opacity="0.04"/>
<rect x="458.44" y="219.37" width="1.91" height="3.14" fill="#ffd060" fill-opacity="0.02"/>
<rect x="462.25" y="219.37" width="1.91" height="3.14" fill="#1a0530" fill-opacity="0.12"/>
<rect x="469.89" y="219.37" width="1.91" height="3.14" fill="#ffd060" fill-opacity="0.02"/>
<rect x="475.62" y="219.37" width="1.91" height="3.14" fill="#ffd060" fill-opacity="0.01"/>
<rect x="477.53" y="219.37" width="1.91" height="3.14" fill="#1a0530" fill-opacity="0.06"/>
<rect x="487.07" y="219.37" width="1.91" height="3.14" fill="#ffd060" fill-opacity="0.03"/>
<rect x="408.8" y="222.51" width="1.91" height="3.14" fill="#ffd060" fill-opacity="0.12"/>
<rect x="418.35" y="222.51" width="1.91" height="3.14" fill="#1a0530" fill-opacity="0.08"/>
<rect x="429.8" y="222.51" width="1.91" height="3.14" fill="#ffd060" fill-opacity="0.07"/>
<rect x="431.71" y="222.51" width="1.91" height="3.14" fill="#ffd060" fill-opacity="0.01"/>
<rect x="473.71" y="222.51" width="1.91" height="3.14" fill="#1a0530" fill-opacity="0.06"/>
<rect x="483.25" y="222.51" width="1.91" height="3.14" fill="#ffd060" fill-opacity="0.07"/>
<rect x="410.71" y="225.66" width="1.91" height="3.14" fill="#1a0530" fill-opacity="0.12"/>
<rect x="431.71" y="225.66" width="1.91" height="3.14" fill="#ffd060" fill-opacity="0.07"/>
<rect x="458.44" y="225.66" width="1.91" height="3.14" fill="#ffd060" fill-opacity="0.06"/>
<rect x="469.89" y="225.66" width="1.91" height="3.14" fill="#1a0530" fill-opacity="0.02"/>
<rect x="475.62" y="225.66" width="1.91" height="3.14" fill="#1a0530" fill-opacity="0"/>
</g>
<line x1="408.8" y1="66.3" x2="411" y2="66.3" stroke="#222" stroke-width="0.7"/>
<line x1="492.8" y1="66.3" x2="490.6" y2="66.3" stroke="#222" stroke-width="0.7"/>
<line x1="408.8" y1="91.4" x2="411" y2="91.4" stroke="#222" stroke-width="0.7"/>
<line x1="492.8" y1="91.4" x2="490.6" y2="91.4" stroke="#222" stroke-width="0.7"/>
<line x1="450.6" y1="100.6" x2="450.6" y2="98.4" stroke="#222" stroke-width="0.7"/>
<line x1="408.8" y1="190.5" x2="411" y2="190.5" stroke="#222" stroke-width="0.7"/>
<line x1="492.8" y1="190.5" x2="490.6" y2="190.5" stroke="#222" stroke-width="0.7"/>
<line x1="408.8" y1="207.5" x2="411" y2="207.5" stroke="#222" stroke-width="0.7"/>
<line x1="492.8" y1="207.5" x2="490.6" y2="207.5" stroke="#222" stroke-width="0.7"/>
<line x1="408.8" y1="224.5" x2="411" y2="224.5" stroke="#222" stroke-width="0.7"/>
<line x1="492.8" y1="224.5" x2="490.6" y2="224.5" stroke="#222" stroke-width="0.7"/>
<line x1="450.6" y1="228.8" x2="450.6" y2="226.6" stroke="#222" stroke-width="0.7"/>
<text transform="translate(405 67.2) rotate(-90)" font-size="8.4" text-anchor="middle" fill="#0c0c0c">20</text>
<text transform="translate(405 89.8) rotate(-90)" font-size="8.4" text-anchor="middle" fill="#0c0c0c">40</text>
<text transform="translate(393.6 71.5) rotate(-90)" font-size="8.15" text-anchor="middle" fill="#0c0c0c">Fluence (mJ/cm<tspan font-size="5.22" dy="-3.1">2</tspan><tspan dy="3.1">)</tspan></text>
<text x="409.4" y="111.3" font-size="8.4" text-anchor="middle" fill="#0c0c0c">0</text>
<text x="451" y="111.3" font-size="8.4" text-anchor="middle" fill="#0c0c0c">10</text>
<text x="494" y="111.3" font-size="8.4" text-anchor="middle" fill="#0c0c0c">20</text>
<text x="451" y="120.4" font-size="8.3" text-anchor="middle" fill="#0c0c0c">Angle (°)</text>
<text transform="translate(405 189.3) rotate(-90)" font-size="8.4" text-anchor="middle" fill="#0c0c0c">20</text>
<text transform="translate(405 206.5) rotate(-90)" font-size="8.4" text-anchor="middle" fill="#0c0c0c">40</text>
<text transform="translate(405 222.6) rotate(-90)" font-size="8.4" text-anchor="middle" fill="#0c0c0c">60</text>
<text transform="translate(393.6 201.6) rotate(-90)" font-size="7.8" text-anchor="middle" fill="#0c0c0c">Fluence (mJ/cm<tspan font-size="4.99" dy="-3.1">2</tspan><tspan dy="3.1">)</tspan></text>
<text x="409.4" y="238.6" font-size="8.4" text-anchor="middle" fill="#0c0c0c">0</text>
<text x="451" y="238.6" font-size="8.4" text-anchor="middle" fill="#0c0c0c">10</text>
<text x="494" y="238.6" font-size="8.4" text-anchor="middle" fill="#0c0c0c">20</text>
<text x="451" y="248.2" font-size="8.3" text-anchor="middle" fill="#0c0c0c">Angle (°)</text>
<rect x="509.8" y="54.8" width="5" height="38.5" fill="url(#cb)" stroke="#555" stroke-width="0.5"/>
<text x="512.5" y="51.9" font-size="7.8" text-anchor="middle" fill="#0c0c0c">max</text>
<text x="512" y="100.6" font-size="7.8" text-anchor="middle" fill="#0c0c0c">min</text>
<rect x="509.8" y="182" width="5" height="38.4" fill="url(#cb)" stroke="#555" stroke-width="0.5"/>
<text x="512.5" y="178.5" font-size="7.8" text-anchor="middle" fill="#0c0c0c">max</text>
<text x="512" y="227.7" font-size="7.8" text-anchor="middle" fill="#0c0c0c">min</text>
</svg>
</body>
</html>
